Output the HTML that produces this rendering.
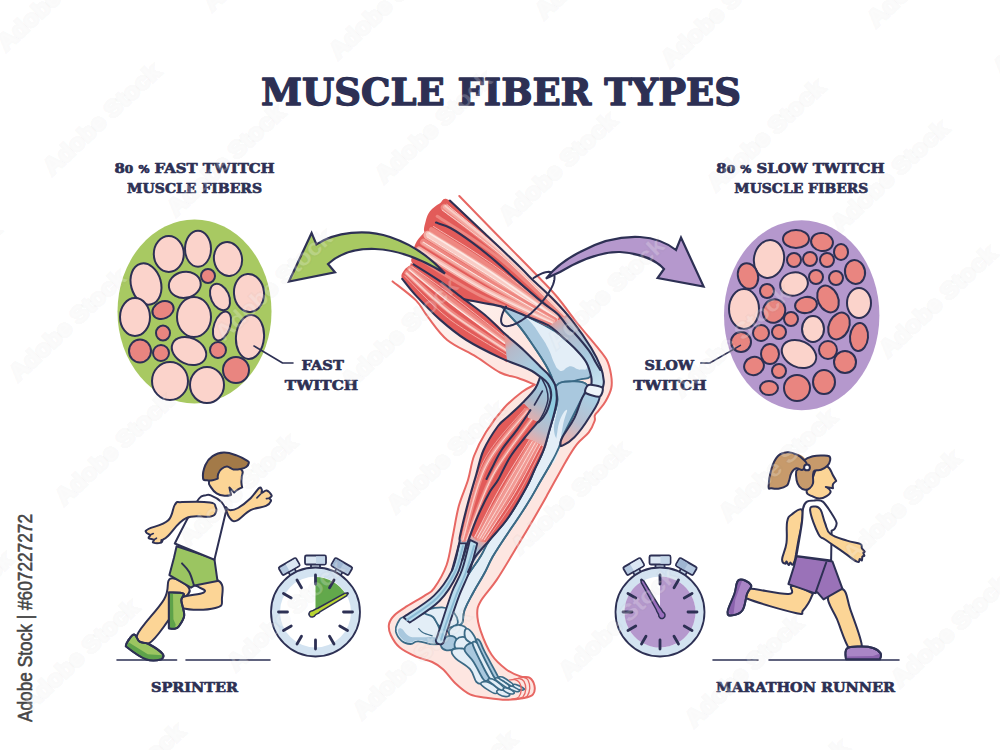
<!DOCTYPE html>
<html lang="en">
<head>
<meta charset="utf-8">
<title>Muscle Fiber Types</title>
<style>
html,body{margin:0;padding:0;background:#fff;}
body{width:1000px;height:750px;overflow:hidden;position:relative;}
svg{display:block;position:absolute;left:0;top:0;}
.t{font-family:"DejaVu Serif","Liberation Serif",serif;font-weight:bold;fill:#2d3054;}
.wm{font-family:"Liberation Sans","DejaVu Sans",sans-serif;font-weight:bold;fill:#000;}
</style>
</head>
<body>
<svg width="1000" height="750" viewBox="0 0 1000 750">
<defs>
<linearGradient id="mus" x1="0" y1="0" x2="1" y2="0">
<stop offset="0" stop-color="#e25b59"/><stop offset="0.5" stop-color="#ef8a84"/><stop offset="1" stop-color="#e25b59"/>
</linearGradient>
<filter id="soft" x="-5%" y="-5%" width="110%" height="110%"><feGaussianBlur stdDeviation="0.55"/></filter>
</defs>
<rect width="1000" height="750" fill="#ffffff"/>
<!-- titles and labels -->
<g class="t" font-size="13.600" stroke="#2d3054" stroke-width="0.650" stroke-linejoin="round">
<text x="261" y="104.500" font-size="37.600" textLength="480" lengthAdjust="spacingAndGlyphs" stroke-width="1.300">MUSCLE FIBER TYPES</text>
<text x="114.500" y="172.700" textLength="160.200" lengthAdjust="spacingAndGlyphs">8<tspan font-size="11">0</tspan> <tspan font-size="10.500">%</tspan> FAST TWITCH</text>
<text x="127.100" y="193.200" textLength="135" lengthAdjust="spacingAndGlyphs">MUSCLE FIBERS</text>
<text x="716.300" y="173" textLength="168.300" lengthAdjust="spacingAndGlyphs">8<tspan font-size="11">0</tspan> <tspan font-size="10.500">%</tspan> SLOW TWITCH</text>
<text x="734.300" y="193.200" textLength="134.100" lengthAdjust="spacingAndGlyphs">MUSCLE FIBERS</text>
<text x="301.500" y="369.700" textLength="42.300" lengthAdjust="spacingAndGlyphs">FAST</text>
<text x="284.800" y="390" textLength="73.400" lengthAdjust="spacingAndGlyphs">TWITCH</text>
<text x="644.600" y="369.700" textLength="49.400" lengthAdjust="spacingAndGlyphs">SLOW</text>
<text x="633.300" y="390" textLength="73.300" lengthAdjust="spacingAndGlyphs">TWITCH</text>
<text x="151" y="691.600" textLength="87" lengthAdjust="spacingAndGlyphs">SPRINTER</text>
<text x="716" y="691.600" textLength="179" lengthAdjust="spacingAndGlyphs">MARATHON RUNNER</text>
</g>
<text class="wm" transform="translate(32,722) rotate(-90)" font-size="20" textLength="208" lengthAdjust="spacingAndGlyphs" style="fill:#454545;font-weight:normal" stroke="#454545" stroke-width="0.550">Adobe Stock | #607227272</text>
<!-- fast twitch fibers -->
<g stroke="#2d3054" stroke-width="2">
<ellipse cx="194.500" cy="311.500" rx="77" ry="92" fill="#a8c962" stroke="none"/>
<ellipse cx="168.8" cy="254" rx="15" ry="18" fill="#fbd3cb" transform="rotate(0 168.8 254)"/>
<ellipse cx="198" cy="248.8" rx="13" ry="18" fill="#fbd3cb" transform="rotate(0 198 248.8)"/>
<ellipse cx="228" cy="259" rx="14" ry="17" fill="#fbd3cb" transform="rotate(-10 228 259)"/>
<ellipse cx="146" cy="284" rx="15" ry="21" fill="#fbd3cb" transform="rotate(-15 146 284)"/>
<ellipse cx="184.8" cy="284.8" rx="16" ry="13" fill="#fbd3cb" transform="rotate(-10 184.8 284.8)"/>
<ellipse cx="220" cy="297" rx="9" ry="14" fill="#fbd3cb" transform="rotate(-25 220 297)"/>
<ellipse cx="249" cy="293" rx="15" ry="19" fill="#fbd3cb" transform="rotate(-5 249 293)"/>
<ellipse cx="135" cy="317" rx="15" ry="19" fill="#fbd3cb" transform="rotate(0 135 317)"/>
<ellipse cx="194" cy="317" rx="17" ry="20" fill="#fbd3cb" transform="rotate(0 194 317)"/>
<ellipse cx="222" cy="326" rx="8" ry="15" fill="#fbd3cb" transform="rotate(20 222 326)"/>
<ellipse cx="250" cy="337" rx="14" ry="22" fill="#fbd3cb" transform="rotate(5 250 337)"/>
<ellipse cx="189" cy="351" rx="18" ry="13" fill="#fbd3cb" transform="rotate(25 189 351)"/>
<ellipse cx="170" cy="381" rx="18" ry="19" fill="#fbd3cb" transform="rotate(0 170 381)"/>
<ellipse cx="207" cy="385" rx="17" ry="18" fill="#fbd3cb" transform="rotate(0 207 385)"/>
<ellipse cx="208" cy="276" rx="7" ry="7" fill="#e98580" transform="rotate(0 208 276)"/>
<ellipse cx="163" cy="310" rx="11" ry="8.5" fill="#e98580" transform="rotate(-25 163 310)"/>
<ellipse cx="163" cy="333" rx="7" ry="7.5" fill="#e98580" transform="rotate(0 163 333)"/>
<ellipse cx="140" cy="351" rx="11" ry="11.5" fill="#e98580" transform="rotate(0 140 351)"/>
<ellipse cx="161" cy="353" rx="8" ry="8" fill="#e98580" transform="rotate(0 161 353)"/>
<ellipse cx="218" cy="350" rx="8" ry="8" fill="#e98580" transform="rotate(0 218 350)"/>
<ellipse cx="236" cy="370" rx="13" ry="13" fill="#e98580" transform="rotate(0 236 370)"/>
</g>
<!-- slow twitch fibers -->
<g stroke="#2d3054" stroke-width="2">
<ellipse cx="801.700" cy="315.300" rx="77.700" ry="95" fill="#b598cd" stroke="none"/>
<ellipse cx="769" cy="259" rx="15" ry="19" fill="#fbd3cb" transform="rotate(10 769 259)"/>
<ellipse cx="794" cy="284" rx="14" ry="11.5" fill="#fbd3cb" transform="rotate(-15 794 284)"/>
<ellipse cx="744" cy="309" rx="15" ry="20" fill="#fbd3cb" transform="rotate(0 744 309)"/>
<ellipse cx="859" cy="303" rx="12" ry="15" fill="#fbd3cb" transform="rotate(0 859 303)"/>
<ellipse cx="813" cy="329" rx="11" ry="13" fill="#fbd3cb" transform="rotate(0 813 329)"/>
<ellipse cx="799" cy="354" rx="18" ry="13" fill="#fbd3cb" transform="rotate(25 799 354)"/>
<ellipse cx="796" cy="239" rx="13" ry="9" fill="#e98580" transform="rotate(0 796 239)"/>
<ellipse cx="822" cy="242" rx="11" ry="9" fill="#e98580" transform="rotate(10 822 242)"/>
<ellipse cx="841" cy="252" rx="7" ry="8" fill="#e98580" transform="rotate(0 841 252)"/>
<ellipse cx="794" cy="260" rx="7" ry="7" fill="#e98580" transform="rotate(0 794 260)"/>
<ellipse cx="810" cy="259" rx="7" ry="7" fill="#e98580" transform="rotate(0 810 259)"/>
<ellipse cx="827" cy="260" rx="7" ry="7" fill="#e98580" transform="rotate(0 827 260)"/>
<ellipse cx="855" cy="272" rx="10" ry="12" fill="#e98580" transform="rotate(-10 855 272)"/>
<ellipse cx="748" cy="276" rx="10" ry="13" fill="#e98580" transform="rotate(-15 748 276)"/>
<ellipse cx="816" cy="277" rx="7" ry="7" fill="#e98580" transform="rotate(0 816 277)"/>
<ellipse cx="836" cy="278" rx="7" ry="7" fill="#e98580" transform="rotate(0 836 278)"/>
<ellipse cx="767" cy="291" rx="7" ry="7" fill="#e98580" transform="rotate(0 767 291)"/>
<ellipse cx="828" cy="299" rx="10" ry="14" fill="#e98580" transform="rotate(-25 828 299)"/>
<ellipse cx="806" cy="305" rx="11" ry="8" fill="#e98580" transform="rotate(-10 806 305)"/>
<ellipse cx="774" cy="311" rx="11" ry="12" fill="#e98580" transform="rotate(30 774 311)"/>
<ellipse cx="791" cy="319" rx="7" ry="7" fill="#e98580" transform="rotate(0 791 319)"/>
<ellipse cx="839" cy="326" rx="10" ry="14" fill="#e98580" transform="rotate(25 839 326)"/>
<ellipse cx="761" cy="333" rx="8" ry="8" fill="#e98580" transform="rotate(0 761 333)"/>
<ellipse cx="779" cy="332" rx="7" ry="7" fill="#e98580" transform="rotate(0 779 332)"/>
<ellipse cx="859" cy="337" rx="9" ry="14" fill="#e98580" transform="rotate(5 859 337)"/>
<ellipse cx="741" cy="342" rx="10" ry="10" fill="#e98580" transform="rotate(0 741 342)"/>
<ellipse cx="828" cy="350" rx="9" ry="9" fill="#e98580" transform="rotate(0 828 350)"/>
<ellipse cx="770" cy="354" rx="9" ry="10" fill="#e98580" transform="rotate(0 770 354)"/>
<ellipse cx="845" cy="362" rx="11" ry="11" fill="#e98580" transform="rotate(0 845 362)"/>
<ellipse cx="754" cy="366" rx="10" ry="9" fill="#e98580" transform="rotate(-20 754 366)"/>
<ellipse cx="779" cy="371" rx="7" ry="7" fill="#e98580" transform="rotate(0 779 371)"/>
<ellipse cx="824" cy="382" rx="11" ry="12" fill="#e98580" transform="rotate(0 824 382)"/>
<ellipse cx="797" cy="388" rx="13" ry="13" fill="#e98580" transform="rotate(0 797 388)"/>
<ellipse cx="769" cy="388" rx="9" ry="7" fill="#e98580" transform="rotate(0 769 388)"/>
</g>
<!-- label lines / ground -->
<g fill="none" stroke="#2d3054" stroke-width="1.600" stroke-linecap="round" stroke-linejoin="round">
<path d="M254,346 L282.600,363 L293,363"/>
<path d="M740.400,345.400 L709.800,363 L700.800,363"/>
<path d="M117,660 H176.600 M186,660 H270"/>
<path d="M713,660 H758 M769,660 H899"/>
</g>
<!-- stopwatches -->
<g transform="translate(315.5 612)" stroke="#2d3054" stroke-width="1.8" stroke-linecap="round" stroke-linejoin="round">
<g fill="#dbe7f3">
<rect x="-4.500" y="-48.500" width="9" height="5" />
<rect x="-10.500" y="-56.500" width="21" height="9" rx="1.500"/>
<rect x="0.500" y="-55.700" width="9" height="7.400" fill="#c3d6e8" stroke="none"/>
<g transform="rotate(-30)">
<rect x="-3.500" y="-50" width="7" height="6" fill="#c3d6e8"/>
<rect x="-10" y="-57" width="20" height="9" rx="1.500" fill="#b5c9e0"/>
<rect x="-2" y="-56.200" width="11" height="7.400" fill="#dbe7f3" stroke="none"/>
</g>
<g transform="rotate(30)">
<rect x="-3.500" y="-50" width="7" height="6" fill="#c3d6e8"/>
<rect x="-10" y="-57" width="20" height="9" rx="1.500" fill="#b5c9e0"/>
<rect x="-9" y="-56.200" width="9" height="7.400" fill="#9fb6d2" stroke="none"/>
</g>
</g>
<circle r="44.500" fill="#d3e3f1"/>
<circle r="35.500" fill="#ffffff" stroke="none"/>
<path d="M0,0 L0,-35 A35,35 0 0 1 30.31,-17.50 Z" fill="#62a84b" stroke="none"/>
<path d="M0.00,-28.00 L0.00,-37.00 M14.00,-24.25 L18.50,-32.04 M24.25,-14.00 L32.04,-18.50 M28.00,-0.00 L37.00,-0.00 M24.25,14.00 L32.04,18.50 M14.00,24.25 L18.50,32.04 M0.00,28.00 L0.00,37.00 M-14.00,24.25 L-18.50,32.04 M-24.25,14.00 L-32.04,18.50 M-28.00,0.00 L-37.00,0.00 M-24.25,-14.00 L-32.04,-18.50 M-14.00,-24.25 L-18.50,-32.04" stroke-width="2.800" fill="none"/>
<g transform="rotate(60)"><path d="M0,7 C-3,7 -3.800,3.600 -2.600,1.800 C-1.900,0.500 -3,-1.500 -2.100,-3.800 L-1.500,-35 Q0,-38.500 1.500,-35 L2.100,-3.800 C3,-1.500 1.900,0.500 2.600,1.800 C3.800,3.600 3,7 0,7 Z" fill="#b9d532" stroke-width="1.500"/></g>
</g>
<g transform="translate(660 612)" stroke="#2d3054" stroke-width="1.8" stroke-linecap="round" stroke-linejoin="round">
<g fill="#dbe7f3">
<rect x="-4.500" y="-48.500" width="9" height="5" />
<rect x="-10.500" y="-56.500" width="21" height="9" rx="1.500"/>
<rect x="0.500" y="-55.700" width="9" height="7.400" fill="#c3d6e8" stroke="none"/>
<g transform="rotate(-30)">
<rect x="-3.500" y="-50" width="7" height="6" fill="#c3d6e8"/>
<rect x="-10" y="-57" width="20" height="9" rx="1.500" fill="#b5c9e0"/>
<rect x="-2" y="-56.200" width="11" height="7.400" fill="#dbe7f3" stroke="none"/>
</g>
<g transform="rotate(30)">
<rect x="-3.500" y="-50" width="7" height="6" fill="#c3d6e8"/>
<rect x="-10" y="-57" width="20" height="9" rx="1.500" fill="#b5c9e0"/>
<rect x="-9" y="-56.200" width="9" height="7.400" fill="#9fb6d2" stroke="none"/>
</g>
</g>
<circle r="44.500" fill="#d3e3f1"/>
<circle r="35.500" fill="#ffffff" stroke="none"/>
<path d="M0,0 L0,-35.500 A35.500,35.500 0 1 1 -17.75,-30.74 Z" fill="#b598cd" stroke="none"/>
<path d="M0.00,-28.00 L0.00,-37.00 M14.00,-24.25 L18.50,-32.04 M24.25,-14.00 L32.04,-18.50 M28.00,-0.00 L37.00,-0.00 M24.25,14.00 L32.04,18.50 M14.00,24.25 L18.50,32.04 M0.00,28.00 L0.00,37.00 M-14.00,24.25 L-18.50,32.04 M-24.25,14.00 L-32.04,18.50 M-28.00,0.00 L-37.00,0.00 M-24.25,-14.00 L-32.04,-18.50 M-14.00,-24.25 L-18.50,-32.04" stroke-width="2.800" fill="none"/>
<g transform="rotate(-30)"><path d="M0,7 C-3,7 -3.800,3.600 -2.600,1.800 C-1.900,0.500 -3,-1.500 -2.100,-3.800 L-1.500,-35 Q0,-38.500 1.500,-35 L2.100,-3.800 C3,-1.500 1.900,0.500 2.600,1.800 C3.800,3.600 3,7 0,7 Z" fill="#9a6fbd" stroke-width="1.500"/></g>
</g>
<!-- sprinter -->
<g stroke="#2d3054" stroke-width="2" stroke-linejoin="round" stroke-linecap="round">
<path d="M170.3,578.7 C175.3,576.5 186.9,584.1 189.2,588.6 C191.5,593.1 186.0,595.1 182.0,601.2 C178.0,607.3 176.1,610.7 169.4,619.2 C162.7,627.7 155.2,640.3 148.7,643.5 C142.2,646.7 133.9,644.2 137.0,635.4 C140.1,626.6 157.3,610.7 164.0,599.4 C170.7,588.1 165.3,580.9 170.3,578.7 Z" fill="#fcd596"/>
<path d="M134.3,634.5 C132.0,634.3 129.7,638.5 128.0,640.8 C126.3,643.1 125.8,646.2 125.8,646.2 C125.8,646.2 138.9,656.6 146.0,659.2 C153.1,661.8 161.3,659.2 161.3,659.2 C161.3,659.2 165.1,656.8 162.6,653.8 C160.0,650.7 153.3,646.5 148.7,644.0 C144.1,641.6 142.6,643.6 139.7,641.7 C136.8,639.8 136.6,634.7 134.3,634.5 Z" fill="#9bc561"/>
<path d="M126.2,646.2 L146.0,659.2 L161.3,659.2 L162.2,655.2 L147.8,654.3 L128.9,642.6 Z" fill="#5ea24a" stroke="none"/>
<path d="M134.3,634.5 C132.0,634.3 129.7,638.5 128.0,640.8 C126.3,643.1 125.8,646.2 125.8,646.2 C125.8,646.2 138.9,656.6 146.0,659.2 C153.1,661.8 161.3,659.2 161.3,659.2 C161.3,659.2 165.1,656.8 162.6,653.8 C160.0,650.7 153.3,646.5 148.7,644.0 C144.1,641.6 142.6,643.6 139.7,641.7 C136.8,639.8 136.6,634.7 134.3,634.5 Z" fill="none"/>
<path d="M194.6,584.1 C199.0,582.5 211.6,577.3 218.0,580.5 C224.4,583.6 222.6,591.2 222.0,597.6 C221.3,604.0 224.6,605.6 215.3,608.0 C206.0,610.5 190.1,610.4 182.0,608.0 C173.9,605.7 175.5,601.6 180.6,598.0 C185.6,594.3 199.3,595.1 203.6,592.6 C207.9,590.0 201.2,589.1 199.1,587.2 C197.0,585.2 190.2,585.7 194.6,584.1 Z" fill="#fcd596"/>
<path d="M168.9,592.6 C168.9,592.6 181.4,592.3 183.4,593.6 C185.5,594.9 181.2,596.6 181.3,600.3 C181.4,604.0 184.6,611.2 184.2,615.6 C183.7,619.9 180.3,624.2 178.8,626.4 C177.2,628.6 176.4,628.4 174.8,628.7 C173.1,629.0 168.9,628.2 168.9,628.2 L168.9,592.6 Z" fill="#9bc561"/>
<path d="M168.9,592.6 L173.0,592.7 L173.4,619.2 L175.7,624.6 L174.8,628.7 L168.9,628.2 Z" fill="#5ea24a" stroke="none"/>
<path d="M168.9,592.6 C168.9,592.6 181.4,592.3 183.4,593.6 C185.5,594.9 181.2,596.6 181.3,600.3 C181.4,604.0 184.6,611.2 184.2,615.6 C183.7,619.9 180.3,624.2 178.8,626.4 C177.2,628.6 176.4,628.4 174.8,628.7 C173.1,629.0 168.9,628.2 168.9,628.2 L168.9,592.6 Z" fill="none"/>
<path d="M176.6,546.3 L214.4,558.9 L217.5,581.0 L194.6,585.4 L191.0,587.7 L169.4,575.1 L173.9,558.0 Z" fill="#9bc561"/>
<path d="M182.0,563.4 C183.4,565.1 186.8,567.7 189.2,572.0 C191.6,576.4 192.9,582.4 193.9,585.0" fill="none"/>
<path d="M225.7,507.3 C225.7,508.8 227.4,515.1 229.6,517.8 C231.8,520.5 232.4,522.1 236.6,520.6 C240.8,519.1 244.7,513.0 250.6,510.1 C256.5,507.2 261.9,507.7 266.0,505.9 C270.1,504.1 270.2,502.5 270.9,501.0 C271.6,499.5 269.4,499.3 269.5,498.2 C269.6,497.1 272.2,496.9 271.6,495.4 C271.0,493.9 268.7,491.0 266.7,490.5 C264.7,490.0 262.8,493.0 261.8,492.9 C260.8,492.7 262.4,490.8 261.8,489.8 C261.2,488.8 261.2,486.4 259.0,488.1 C256.8,489.8 254.8,494.2 250.6,498.2 C246.4,502.2 242.2,505.6 238.0,508.0 C233.8,510.4 232.1,510.2 229.6,510.1 C227.1,510.0 225.7,505.8 225.7,507.3 Z" fill="#fcd596"/>
<path d="M260.7,494.0 L256.9,497.9" fill="none" stroke-width="1.6"/>
<path d="M269.5,498.2 L266.4,498.6" fill="none" stroke-width="1.6"/>
<path d="M199.1,498.5 C201.8,495.1 203.4,495.9 205.4,495.4 C207.3,494.9 208.1,494.3 210.8,495.4 C213.5,496.5 219.0,499.5 221.6,502.1 C224.1,504.7 226.1,511.1 226.1,511.1 L214.4,559.7 L174.8,543.5 C174.8,543.5 185.1,523.1 189.2,515.6 C193.2,508.1 196.4,501.9 199.1,498.5 Z" fill="#ffffff"/>
<path d="M215.6,506.9 C214.5,504.8 216.7,503.4 210.0,502.4 C203.3,501.4 189.0,501.7 182.0,502.1 C175.0,502.5 177.8,500.8 175.0,504.5 C172.2,508.2 173.3,515.7 168.0,520.6 C162.7,525.5 152.7,526.6 148.4,529.0 C144.1,531.4 146.0,531.3 146.3,532.5 C146.6,533.7 149.6,533.9 150.1,535.0 C150.6,536.1 148.0,537.1 148.7,538.1 C149.4,539.1 152.8,539.0 153.7,539.9 C154.6,540.8 151.8,542.0 153.3,542.6 C154.8,543.1 159.0,543.2 161.0,542.6 C163.0,542.0 161.7,540.8 163.1,539.5 C164.5,538.2 163.4,540.3 168.0,536.0 C172.6,531.7 177.8,521.9 186.2,518.1 C194.6,514.2 204.1,517.7 210.0,516.7 C215.9,515.6 214.5,514.9 215.6,512.9 C216.7,510.9 216.7,509.0 215.6,506.9 Z" fill="#fcd596"/>
<path d="M150.1,535.0 L153.3,533.6" fill="none" stroke-width="1.6"/>
<path d="M153.7,539.9 L156.5,538.2" fill="none" stroke-width="1.6"/>
<path d="M161.0,542.6 L161.3,539.9" fill="none" stroke-width="1.6"/>
<path d="M209.0,481.4 C208.2,484.6 209.5,485.0 211.0,487.4 C212.5,489.8 213.9,491.7 216.6,493.4 C219.3,495.1 221.7,495.5 224.6,495.8 C227.5,496.1 231.0,495.0 231.0,495.0 L229.4,487.4 L234.2,492.6 C234.2,492.6 235.8,490.8 237.4,489.8 C239.0,488.8 242.2,487.4 242.2,487.4 C242.2,487.4 241.5,484.7 241.4,482.6 C241.3,480.5 241.8,479.6 241.8,477.0 C241.8,474.4 244.4,472.0 241.4,469.8 C238.4,467.6 232.3,465.5 227.0,465.8 C221.7,466.1 218.6,468.3 215.0,471.4 C211.4,474.5 209.8,478.2 209.0,481.4 Z" fill="#fcd596"/>
<path d="M203.0,478.2 C202.7,475.2 203.5,469.4 205.4,465.0 C207.3,460.6 208.9,458.7 212.6,456.2 C216.3,453.7 219.0,452.8 223.8,452.6 C228.6,452.4 232.0,453.8 236.6,455.4 C241.2,457.0 244.6,459.1 247.0,460.6 C249.4,462.1 248.9,461.7 248.8,463.0 C248.6,464.3 247.8,465.8 246.2,467.0 C244.6,468.2 243.2,468.5 240.6,469.0 C238.0,469.5 236.1,469.9 233.4,469.4 C230.7,468.9 229.4,466.7 227.0,466.6 C224.6,466.5 223.2,467.6 221.4,469.0 C219.6,470.4 218.9,471.9 218.2,473.8 C217.5,475.7 217.8,478.6 217.8,478.6 C217.8,478.6 214.8,479.9 212.6,480.2 C210.4,480.5 208.9,480.6 207.0,480.2 C205.1,479.8 203.3,481.2 203.0,478.2 Z" fill="#a37a48"/>
</g>
<!-- marathon runner -->
<g stroke="#2d3054" stroke-width="2" stroke-linejoin="round" stroke-linecap="round">
<path d="M801.9,509.8 C800.0,507.6 795.0,511.8 792.0,514.2 C789.0,516.6 788.2,516.2 787.1,521.9 C786.0,527.6 787.5,535.3 786.5,542.8 C785.5,550.3 782.3,555.1 782.1,559.3 C781.9,563.5 784.5,563.3 785.4,563.7 C786.3,564.1 785.8,561.2 786.5,561.5 C787.2,561.8 787.9,564.8 788.7,565.0 C789.5,565.2 789.6,562.6 790.4,562.6 C791.1,562.6 791.7,565.2 792.6,564.8 C793.4,564.4 794.1,562.4 794.8,560.4 C795.4,558.4 795.1,559.1 795.9,554.9 C796.6,550.7 797.5,545.4 798.6,539.5 C799.7,533.6 800.7,531.1 801.4,525.2 C802.0,519.3 803.8,512.0 801.9,509.8 Z" fill="#fcd596"/>
<path d="M792.0,585.9 C796.3,585.5 806.0,590.1 810.0,592.2 C814.0,594.3 813.2,592.6 811.8,596.2 C810.4,599.8 806.4,606.9 803.2,610.2 C799.9,613.5 806.8,615.2 795.6,612.9 C784.4,610.6 756.7,602.5 747.0,598.5 C737.3,594.5 746.6,595.1 747.0,593.1 C747.4,591.1 740.9,588.4 749.2,588.6 C757.4,588.8 779.8,594.5 788.4,594.0 C797.0,593.5 787.7,586.3 792.0,585.9 Z" fill="#fcd596"/>
<path d="M738.9,580.0 C742.2,578.2 749.3,582.2 751.0,585.0 C752.6,587.8 748.7,589.0 747.0,594.0 C745.3,599.0 745.4,606.0 742.5,610.2 C739.6,614.4 735.6,614.9 732.6,615.2 C729.6,615.6 727.2,616.2 727.6,612.0 C727.9,607.8 732.1,600.4 734.4,594.0 C736.7,587.6 735.6,581.8 738.9,580.0 Z" fill="#a985c6"/>
<path d="M738.9,580.0 L742.0,581.0 L735.3,599.4 L733.5,614.7 L732.6,615.2 L727.6,612.0 L734.4,594.0 Z" fill="#8a62ad" stroke="none"/>
<path d="M738.9,580.0 C742.2,578.2 749.3,582.2 751.0,585.0 C752.6,587.8 748.7,589.0 747.0,594.0 C745.3,599.0 745.4,606.0 742.5,610.2 C739.6,614.4 735.6,614.9 732.6,615.2 C729.6,615.6 727.2,616.2 727.6,612.0 C727.9,607.8 732.1,600.4 734.4,594.0 C736.7,587.6 735.6,581.8 738.9,580.0 Z" fill="none"/>
<path d="M828.0,597.6 C829.0,592.6 839.6,587.7 843.3,589.5 C847.0,591.3 846.9,598.9 850.0,608.4 C853.0,617.8 861.9,639.4 861.8,646.2 C861.8,653.0 853.7,653.6 849.6,649.1 C845.5,644.6 840.6,627.8 837.0,619.2 C833.4,610.6 826.9,602.5 828.0,597.6 Z" fill="#fcd596"/>
<path d="M846.9,648.4 C849.3,646.2 856.0,646.6 860.4,646.6 C864.7,646.5 869.6,646.9 873.0,648.0 C876.4,649.1 879.4,651.5 880.6,653.4 C881.7,655.3 879.8,659.3 879.8,659.3 L846.0,659.3 C846.0,659.3 844.5,650.5 846.9,648.4 Z" fill="#a985c6"/>
<path d="M846.0,659.3 L846.4,656.6 L873.0,656.1 L880.2,653.4 L879.8,659.3 Z" fill="#8a62ad" stroke="none"/>
<path d="M846.9,648.4 C849.3,646.2 856.0,646.6 860.4,646.6 C864.7,646.5 869.6,646.9 873.0,648.0 C876.4,649.1 879.4,651.5 880.6,653.4 C881.7,655.3 879.8,659.3 879.8,659.3 L846.0,659.3 C846.0,659.3 844.5,650.5 846.9,648.4 Z" fill="none"/>
<path d="M796.5,556.2 L832.5,561.6 L842.4,588.6 L823.5,599.4 L817.2,592.2 L814.5,593.1 L788.4,584.1 L793.8,567.0 Z" fill="#9a72b8"/>
<path d="M826.2,562.5 L815.4,593.1" fill="none"/>
<path d="M803.0,508.7 C803.7,505.2 804.5,503.5 806.3,502.1 C808.1,500.7 811.3,500.5 814.0,500.5 C816.8,500.4 819.7,499.1 822.8,501.6 C825.9,504.0 830.4,511.7 832.7,515.3 C835.0,518.9 836.2,520.8 836.6,523.0 C836.9,525.2 835.7,527.2 834.9,528.5 C834.1,529.8 831.6,530.7 831.6,530.7 L831.1,560.4 L796.4,556.0 C796.4,556.0 800.8,530.9 801.9,523.0 C803.0,515.1 802.3,512.2 803.0,508.7 Z" fill="#ffffff"/>
<path d="M815.1,506.5 C813.0,506.7 809.5,505.4 810.2,510.9 C810.8,516.4 815.4,528.3 818.4,534.0 C821.4,539.7 820.2,536.0 825.0,539.5 C829.8,543.0 836.2,547.2 842.6,551.6 C849.0,556.0 853.5,560.2 856.9,561.7 C860.3,563.2 858.7,559.3 859.7,559.1 C860.6,558.8 861.3,560.9 861.9,560.4 C862.4,559.9 861.9,557.5 862.4,556.6 C862.9,555.6 864.2,556.6 864.4,555.8 C864.6,555.0 863.2,553.5 863.3,552.7 C863.3,551.9 864.9,552.5 864.6,551.6 C864.3,550.7 862.7,549.8 861.9,548.3 C861.0,546.8 863.2,545.4 860.2,543.9 C857.2,542.4 852.9,542.6 847.0,540.6 C841.1,538.6 834.9,537.5 830.5,534.0 C826.1,530.5 827.0,527.8 825.0,523.0 C823.0,518.2 822.6,513.1 820.6,509.8 C818.6,506.5 817.2,506.3 815.1,506.5 Z" fill="#fcd596"/>
<path d="M797.0,454.6 C796.8,453.0 800.8,454.9 802.6,456.2 C804.4,457.5 805.6,459.4 805.8,461.0 C806.0,462.6 805.2,465.5 803.4,464.2 C801.6,462.9 797.2,456.2 797.0,454.6 Z" fill="#b98d5e" stroke="none"/>
<path d="M827.4,466.6 C830.6,467.9 831.2,472.5 833.0,475.4 C834.8,478.3 836.2,481.0 836.2,481.0 C836.2,481.0 833.6,482.8 833.0,484.2 C832.4,485.6 833.0,488.2 833.0,488.2 L825.8,487.0 C825.8,487.0 830.4,489.6 830.6,491.4 C830.8,493.2 828.8,494.8 826.6,496.2 C824.4,497.6 822.3,498.6 819.4,498.6 C816.5,498.6 814.8,497.6 812.2,496.2 C809.6,494.8 806.4,495.2 806.6,491.4 C806.8,487.6 810.9,481.5 813.0,477.0 C815.1,472.5 814.1,471.1 817.0,469.0 C819.9,466.9 824.2,465.3 827.4,466.6 Z" fill="#fcd596"/>
<path d="M804.2,460.2 C807.1,457.6 809.3,457.2 813.0,456.2 C816.7,455.2 819.4,455.4 822.6,455.4 C825.8,455.4 827.5,455.2 829.0,456.2 C830.5,457.2 830.5,458.3 830.2,460.2 C829.9,462.1 829.2,463.9 827.4,465.8 C825.6,467.7 823.6,468.8 821.0,469.8 C818.4,470.8 816.2,469.5 814.6,470.6 C813.0,471.7 813.3,472.8 813.0,475.4 C812.7,478.0 813.6,480.8 813.0,483.4 C812.4,486.0 811.4,486.9 809.8,488.2 C808.2,489.5 807.1,490.1 805.0,489.8 C802.9,489.5 801.1,488.5 799.4,486.6 C797.7,484.7 797.2,483.2 796.6,480.2 C796.0,477.2 795.8,473.6 796.2,471.4 C796.6,469.2 797.0,471.2 798.6,469.0 C800.2,466.8 801.3,462.8 804.2,460.2 Z" fill="#c79a6b"/>
<path d="M768.6,486.6 C768.6,482.8 769.6,475.1 771.4,469.0 C773.2,462.9 774.6,459.6 777.8,456.2 C781.0,452.8 783.6,452.5 787.4,452.2 C791.2,451.9 793.6,453.0 797.0,454.6 C800.4,456.2 802.3,458.3 804.2,460.2 C806.1,462.1 806.9,462.3 806.6,464.2 C806.3,466.1 804.7,469.0 802.6,469.8 C800.5,470.6 798.4,467.6 796.2,468.2 C794.0,468.8 792.8,470.4 791.4,473.0 C790.0,475.6 790.0,478.4 789.0,481.0 C788.0,483.6 788.5,484.3 786.6,485.8 C784.7,487.3 782.4,488.1 779.4,488.6 C776.4,489.1 773.6,488.6 771.4,488.2 C769.2,487.8 768.6,490.4 768.6,486.6 Z" fill="#c79a6b"/>
<circle cx="807" cy="467.400" r="2.900" fill="#ffffff"/>
</g>
<!-- leg -->
<g stroke-linejoin="round" stroke-linecap="round" fill="none">
<linearGradient id="skg" gradientUnits="userSpaceOnUse" x1="440" y1="235" x2="530" y2="335"><stop offset="0" stop-color="#ffffff"/><stop offset="0.35" stop-color="#fef3f0"/><stop offset="1" stop-color="#fde6e1"/></linearGradient>
<path d="M459.3,196.0 C465.6,202.4 486.9,224.4 497.0,234.7 C507.1,245.0 512.8,250.7 520.0,258.0 C527.2,265.3 533.7,271.9 540.0,278.5 C546.3,285.1 551.3,289.9 557.6,297.5 C563.9,305.1 571.6,316.0 578.0,324.0 C584.4,332.0 591.2,339.6 596.0,345.6 C600.8,351.6 604.3,355.2 606.8,360.0 C609.3,364.8 610.2,369.7 611.0,374.4 C611.8,379.1 612.2,383.5 611.3,388.0 C610.4,392.5 607.8,397.4 605.6,401.2 C603.5,405.0 600.2,408.4 598.4,410.8 C596.6,413.2 595.4,413.9 594.8,415.6 C594.2,417.3 595.6,418.2 594.6,421.0 C593.6,423.8 591.8,428.5 588.8,432.4 C585.8,436.3 580.6,439.6 576.8,444.4 C573.0,449.2 570.8,453.0 566.0,461.2 C561.2,469.4 553.5,483.8 548.0,493.6 C542.5,503.4 538.2,511.1 533.0,520.0 C527.8,528.9 522.8,537.1 516.8,547.0 C510.8,556.9 503.0,570.4 497.0,579.4 C491.0,588.4 484.1,595.3 480.8,601.0 C477.5,606.7 477.2,608.5 477.2,613.6 C477.2,618.7 478.4,624.5 480.8,631.4 C483.2,638.3 487.4,648.5 491.6,654.8 C495.8,661.1 501.2,665.6 506.0,669.2 C510.8,672.8 516.5,675.0 520.4,676.4 C524.3,677.8 527.1,676.2 529.4,677.7 C531.7,679.2 533.8,682.6 534.4,685.4 C535.0,688.2 534.7,692.3 533.0,694.4 C531.3,696.5 528.5,697.1 524.0,698.0 C519.5,698.9 512.0,699.8 506.0,699.8 C500.0,699.8 494.0,698.9 488.0,698.0 C482.0,697.1 475.4,696.8 470.0,694.4 C464.6,692.0 460.1,687.8 455.6,683.6 C451.1,679.4 446.9,672.8 443.0,669.2 C439.1,665.6 436.7,664.1 432.2,662.0 C427.7,659.9 421.4,659.0 416.0,656.6 C410.6,654.2 404.0,651.2 399.8,647.6 C395.6,644.0 392.6,638.9 390.8,635.0 C389.0,631.1 388.4,627.5 389.0,624.2 C389.6,620.9 391.4,618.2 394.4,615.2 C397.4,612.2 401.9,609.5 407.0,606.2 C412.1,602.9 420.5,598.4 425.0,595.4 C429.5,592.4 430.4,593.5 434.0,588.4 C437.6,583.3 443.5,573.7 446.6,565.0 C449.7,556.3 450.8,545.8 452.8,536.0 C454.8,526.2 456.3,515.3 458.8,506.0 C461.3,496.7 465.5,488.3 468.0,480.0 C470.5,471.7 471.0,464.0 474.0,456.0 C477.0,448.0 481.0,440.0 486.0,432.0 C491.0,424.0 498.0,414.7 504.0,408.0 C510.0,401.3 516.9,395.9 522.0,392.0 C527.1,388.1 532.7,385.8 534.8,384.6 L534.8,384.6 C532.0,383.5 523.8,380.0 518.0,378.0 C512.2,376.0 507.0,376.1 500.0,372.5 C493.0,368.9 484.8,362.0 476.0,356.6 C467.2,351.2 455.2,346.6 447.2,340.0 C439.2,333.4 433.2,323.8 428.0,317.2 C422.8,310.6 421.9,306.4 416.0,300.4 C410.1,294.4 396.5,284.6 392.6,281.4 L402,279 L413,262 L425,225 L449,201 Z" fill="url(#skg)" stroke="none"/>
<path d="M500.0,304.0 C498.1,305.1 499.4,303.9 504.8,310.2 C510.2,316.5 512.4,317.5 520.4,327.6 C528.4,337.7 528.1,338.1 534.8,348.0 C541.5,357.9 541.1,357.1 545.6,364.8 C550.1,372.5 548.7,371.0 551.6,376.8 C554.5,382.6 552.9,384.5 556.4,386.4 C559.9,388.3 560.1,385.4 564.8,384.0 C569.5,382.6 569.5,382.3 574.0,381.0 C578.5,379.7 577.3,380.3 581.6,379.2 C585.9,378.1 587.5,379.3 590.0,376.8 C592.5,374.3 591.3,372.9 591.0,370.0 C590.7,367.1 590.7,369.2 588.8,366.0 C586.9,362.8 587.2,362.2 584.0,358.0 C580.8,353.8 581.9,355.3 576.8,350.4 C571.7,345.5 571.8,345.4 564.8,339.6 C557.8,333.8 560.6,335.1 550.4,328.8 C540.2,322.5 536.6,322.1 526.4,316.0 C516.2,309.9 519.0,309.2 512.0,306.0 C505.0,302.8 501.9,302.9 500.0,304.0 Z" fill="#a9c8de" stroke="#3b6a86" stroke-width="1.8"/>
<path d="M515.0,308.0 C516.0,309.2 523.3,314.4 530.0,321.6 C536.7,328.8 535.2,328.0 540.0,335.0 C544.8,342.0 544.3,340.7 548.0,348.0 C551.7,355.3 551.3,356.8 554.0,362.4 C556.7,368.0 555.8,366.8 558.0,369.0 C560.2,371.2 560.0,371.2 562.4,370.8 C564.8,370.4 564.4,368.6 567.0,367.5 C569.6,366.4 569.3,366.1 572.0,366.5 C574.7,366.9 574.4,368.2 577.0,369.0 C579.6,369.8 578.9,369.9 581.6,369.6 C584.3,369.3 586.4,370.6 587.0,368.0 C587.6,365.4 586.7,364.4 584.0,360.0 C581.3,355.6 581.9,356.6 576.8,351.4 C571.7,346.2 571.8,346.4 564.8,340.6 C557.8,334.8 560.6,336.1 550.4,329.8 C540.2,323.5 535.8,322.8 526.4,317.0 C517.0,311.2 514.0,306.8 515.0,308.0 Z" fill="#e3eef7" stroke="none"/>
<path d="M504.8,310.2 C507.4,313.1 515.4,321.3 520.4,327.6 C525.4,333.9 530.6,341.8 534.8,348.0 C539.0,354.2 542.8,360.0 545.6,364.8 C548.4,369.6 550.6,374.8 551.6,376.8" stroke="#3b6a86" stroke-width="1.8"/>
<path d="M556.4,385.6 C553.0,389.9 558.2,393.1 557.6,400.0 C557.0,406.9 555.9,408.1 554.0,415.0 C552.1,421.9 552.0,421.4 549.6,429.6 C547.2,437.8 547.1,440.6 543.6,450.0 C540.1,459.4 538.5,461.1 534.4,470.0 C530.3,478.9 532.2,476.8 526.0,488.0 C519.8,499.2 516.4,506.0 508.0,518.0 C499.6,530.0 496.3,530.7 490.0,539.6 C483.7,548.5 485.9,547.7 480.8,556.0 C475.7,564.3 473.5,566.6 468.0,575.0 C462.5,583.4 461.6,584.3 457.4,592.0 C453.2,599.7 452.1,601.3 450.0,608.0 C447.9,614.7 445.8,617.0 448.4,620.8 C451.0,624.6 457.2,626.9 461.0,624.4 C464.8,621.9 461.7,617.6 464.6,610.0 C467.5,602.4 469.1,600.4 473.6,592.0 C478.1,583.6 479.7,581.9 484.0,574.0 C488.3,566.1 487.8,565.5 492.0,558.0 C496.2,550.5 494.1,554.1 502.0,542.0 C509.9,529.9 516.9,520.5 526.0,506.0 C535.1,491.5 534.9,490.7 541.2,480.0 C547.5,469.3 548.6,467.7 552.8,460.0 C557.0,452.3 556.8,452.3 559.0,447.0 C561.2,441.7 559.4,444.0 562.4,437.2 C565.4,430.4 567.9,426.2 572.0,418.0 C576.1,409.8 577.2,407.6 580.0,402.0 C582.8,396.4 582.5,398.1 584.0,394.0 C585.5,389.9 589.2,387.3 586.4,384.4 C583.6,381.5 579.0,381.1 572.0,381.4 C565.0,381.7 559.8,381.3 556.4,385.6 Z" fill="#e3eef7" stroke="#3b6a86" stroke-width="1.8"/>
<path d="M556.4,385.6 C559.8,379.9 565.0,381.7 572.0,381.4 C579.0,381.1 583.6,381.5 586.4,384.4 C589.2,387.3 586.0,389.2 584.0,394.0 C582.0,398.8 580.8,399.4 578.0,405.0 C575.2,410.6 574.8,412.2 572.0,418.0 C569.2,423.8 568.8,424.9 566.0,430.0 C563.2,435.1 562.8,440.0 560.0,440.0 C557.2,440.0 554.6,437.9 554.0,430.0 C553.4,422.1 557.0,416.4 557.6,406.0 C558.2,395.6 553.0,391.3 556.4,385.6 Z" fill="#a9c8de" stroke="none"/>
<path d="M567.0,410.0 C567.7,411.2 565.2,414.7 563.0,425.0 C560.8,435.3 560.2,445.4 557.6,454.0 C555.0,462.6 552.4,465.3 552.0,462.0 C551.6,458.7 554.1,449.8 556.0,440.0 C557.9,430.2 557.4,427.0 560.0,420.0 C562.6,413.0 566.3,408.8 567.0,410.0 Z" fill="#e3eef7" stroke="none"/>
<path d="M556.4,385.6 C553.0,389.9 558.2,393.1 557.6,400.0 C557.0,406.9 555.9,408.1 554.0,415.0 C552.1,421.9 552.0,421.4 549.6,429.6 C547.2,437.8 547.1,440.6 543.6,450.0 C540.1,459.4 538.5,461.1 534.4,470.0 C530.3,478.9 532.2,476.8 526.0,488.0 C519.8,499.2 516.4,506.0 508.0,518.0 C499.6,530.0 496.3,530.7 490.0,539.6 C483.7,548.5 485.9,547.7 480.8,556.0 C475.7,564.3 473.5,566.6 468.0,575.0 C462.5,583.4 461.6,584.3 457.4,592.0 C453.2,599.7 452.1,601.3 450.0,608.0 C447.9,614.7 445.8,617.0 448.4,620.8 C451.0,624.6 457.2,626.9 461.0,624.4 C464.8,621.9 461.7,617.6 464.6,610.0 C467.5,602.4 469.1,600.4 473.6,592.0 C478.1,583.6 479.7,581.9 484.0,574.0 C488.3,566.1 487.8,565.5 492.0,558.0 C496.2,550.5 494.1,554.1 502.0,542.0 C509.9,529.9 516.9,520.5 526.0,506.0 C535.1,491.5 534.9,490.7 541.2,480.0 C547.5,469.3 548.6,467.7 552.8,460.0 C557.0,452.3 556.8,452.3 559.0,447.0 C561.2,441.7 559.4,444.0 562.4,437.2 C565.4,430.4 567.9,426.2 572.0,418.0 C576.1,409.8 577.2,407.6 580.0,402.0 C582.8,396.4 582.5,398.1 584.0,394.0 C585.5,389.9 589.2,387.3 586.4,384.4 C583.6,381.5 579.0,381.1 572.0,381.4 C565.0,381.7 559.8,381.3 556.4,385.6 Z" stroke="#3b6a86" stroke-width="1.8"/>
</g>
<!-- foot bones -->
<g stroke-linejoin="round" stroke-linecap="round" fill="none">
<path d="M398.0,622.4 C396.2,625.8 395.0,627.1 395.8,631.4 C396.7,635.7 398.2,637.8 401.6,640.8 C405.0,643.7 406.7,643.9 410.6,644.0 C414.5,644.1 412.7,641.2 418.2,641.3 C423.6,641.4 428.4,644.5 434.0,644.4 C439.6,644.2 440.8,644.4 442.1,640.8 C443.4,637.1 441.5,634.2 439.4,628.7 C437.3,623.2 436.5,620.7 433.1,617.0 C429.7,613.3 429.8,612.6 425.0,613.0 C420.2,613.5 417.4,617.9 412.4,618.8 C407.4,619.7 407.1,616.2 403.8,617.0 C400.4,617.8 399.8,619.0 398.0,622.4 Z" fill="#e3eef7" stroke="#3b6a86" stroke-width="1.8"/>
<path d="M398.0,631.4 C398.2,633.9 399.6,636.9 402.5,639.5 C405.4,642.1 406.9,642.4 410.6,642.6 C414.3,642.7 412.7,639.9 418.2,640.0 C423.6,640.2 428.8,643.1 434.0,643.1 C439.2,643.1 440.3,641.4 440.3,640.0 C440.3,638.7 439.0,637.8 434.0,637.2 C429.0,636.5 424.6,637.5 418.7,637.2 C412.8,636.9 412.8,637.9 408.8,635.9 C404.8,633.9 404.1,629.7 401.6,628.7 C399.1,627.6 397.8,628.9 398.0,631.4 Z" fill="#a9c8de" stroke="none"/>
<path d="M418.7,628.7 C419.4,629.4 420.9,631.6 423.2,632.8 C425.4,634.0 430.7,635.4 432.2,635.9" stroke="#3b6a86" stroke-width="1.2"/>
<path d="M425.0,613.0 C425.2,610.9 428.3,608.8 434.0,608.0 C439.7,607.2 443.8,606.5 449.3,609.4 C454.8,612.4 457.0,616.5 457.8,620.6 C458.5,624.7 456.4,625.4 452.4,626.9 C448.3,628.4 444.8,629.2 440.3,626.9 C435.8,624.6 436.7,620.2 433.1,617.0 C429.5,613.8 424.8,615.1 425.0,613.0 Z" fill="#e3eef7" stroke="#3b6a86" stroke-width="1.8"/>
<path d="M451.1,627.8 C453.4,625.5 455.6,624.9 459.2,625.1 C462.8,625.3 465.1,625.9 466.4,628.7 C467.7,631.5 467.1,634.8 464.6,637.2 C462.1,639.6 459.2,639.5 455.6,639.0 C452.0,638.5 450.3,637.6 449.3,635.0 C448.2,632.4 448.8,630.1 451.1,627.8 Z" fill="#e3eef7" stroke="#3b6a86" stroke-width="1.8"/>
<path d="M442.1,641.3 C444.0,638.8 445.9,636.3 449.3,635.9 C452.7,635.5 455.2,636.7 456.5,639.5 C457.8,642.3 457.0,645.4 454.7,648.0 C452.4,650.5 449.7,650.6 446.6,650.3 C443.4,650.0 442.2,648.8 441.2,646.7 C440.1,644.6 440.2,643.8 442.1,641.3 Z" fill="#a9c8de" stroke="#3b6a86" stroke-width="1.8"/>
<path d="M456.5,639.5 C458.7,636.9 461.8,636.5 465.0,637.2 C468.1,637.8 470.1,639.3 470.0,642.2 C469.9,645.1 468.0,647.9 464.6,649.4 C461.2,650.9 457.5,650.8 455.6,648.5 C453.7,646.2 454.3,642.1 456.5,639.5 Z" fill="#e3eef7" stroke="#3b6a86" stroke-width="1.8"/>
<path d="M466.4,628.7 C468.4,628.2 471.5,631.8 473.6,635.0 C475.7,638.1 476.2,640.5 475.4,642.2 C474.6,643.9 472.4,643.4 470.0,642.2 C467.6,641.0 465.8,640.3 465.0,637.2 C464.1,634.0 464.4,629.2 466.4,628.7 Z" fill="#e3eef7" stroke="#3b6a86" stroke-width="1.8"/>
<path d="M452.0,650.3 C453.3,648.3 459.0,648.1 461.9,648.5 C464.8,648.9 462.6,647.6 466.4,652.1 C470.2,656.6 477.0,665.4 480.8,671.0 C484.6,676.6 484.9,677.5 485.3,680.0 C485.7,682.5 484.4,683.2 482.6,683.6 C480.8,684.0 478.8,684.7 476.3,681.8 C473.8,678.9 474.1,673.9 470.0,669.2 C465.9,664.5 459.2,662.2 455.6,658.4 C452.0,654.6 450.7,652.3 452.0,650.3 Z" fill="#e3eef7" stroke="#3b6a86" stroke-width="1.8"/>
<path d="M464.6,649.8 C464.1,646.0 468.7,643.5 470.9,643.1 C473.1,642.7 472.5,642.4 475.4,647.6 C478.3,652.8 482.4,663.1 485.3,669.2 C488.2,675.3 489.6,675.9 489.8,678.2 C490.0,680.5 487.6,680.9 486.2,680.9 C484.8,680.9 485.1,682.0 482.6,678.2 C480.1,674.4 477.2,667.7 473.6,662.0 C470.0,656.3 465.1,653.5 464.6,649.8 Z" fill="#a9c8de" stroke="#3b6a86" stroke-width="1.8"/>
<path d="M472.7,644.0 C472.0,640.2 475.6,642.0 477.2,643.1 C478.8,644.2 477.9,643.8 480.8,649.4 C483.7,655.0 488.7,665.2 491.6,671.0 C494.5,676.8 495.0,676.4 495.2,678.2 C495.4,680.0 493.8,680.2 492.5,680.0 C491.2,679.8 491.2,680.9 488.9,677.3 C486.6,673.7 484.0,668.7 480.8,662.0 C477.6,655.3 473.4,647.8 472.7,644.0 Z" fill="#e3eef7" stroke="#3b6a86" stroke-width="1.8"/>
<path d="M476.3,640.4 C475.9,638.1 478.3,639.1 479.9,641.3 C481.5,643.5 481.0,644.5 484.4,651.2 C487.8,657.9 494.3,669.2 497.0,674.6 C499.7,680.0 498.3,677.4 497.9,678.2 C497.5,679.0 496.8,680.4 495.2,678.6 C493.6,676.8 492.5,674.3 489.8,669.2 C487.1,664.1 484.4,658.8 481.7,653.0 C479.0,647.2 476.7,642.7 476.3,640.4 Z" fill="#a9c8de" stroke="#3b6a86" stroke-width="1.8"/>
<path d="M480.8,684.0 C480.4,682.3 483.3,681.3 486.2,681.8 C489.1,682.3 492.7,684.5 495.2,686.3 C497.7,688.1 498.8,689.4 498.8,690.8 C498.8,692.2 497.4,693.7 495.2,693.5 C493.0,693.3 490.9,691.8 488.0,689.9 C485.1,688.0 481.2,685.6 480.8,684.0 Z" fill="#e3eef7" stroke="#3b6a86" stroke-width="1.6"/>
<path d="M497.0,690.8 C497.7,689.9 499.9,689.2 502.4,689.9 C504.9,690.6 508.9,693.1 509.6,694.4 C510.3,695.7 508.2,696.6 506.0,696.6 C503.8,696.6 500.6,695.6 498.8,694.4 C497.0,693.2 496.3,691.7 497.0,690.8 Z" fill="#e3eef7" stroke="#3b6a86" stroke-width="1.6"/>
<path d="M488.0,680.0 C487.6,678.7 490.0,678.2 492.5,679.1 C495.0,680.0 498.3,682.6 500.6,684.5 C502.9,686.4 504.1,687.6 504.2,688.6 C504.3,689.7 502.9,690.5 501.0,689.9 C499.0,689.3 496.9,687.4 494.3,685.4 C491.7,683.4 488.4,681.3 488.0,680.0 Z" fill="#e3eef7" stroke="#3b6a86" stroke-width="1.6"/>
<path d="M503.3,688.6 C503.7,687.9 504.7,687.4 506.9,688.1 C509.1,688.8 513.2,691.1 514.1,692.2 C515.0,693.4 513.2,694.1 511.4,694.0 C509.6,693.9 506.7,692.8 505.1,691.7 C503.5,690.6 502.9,689.4 503.3,688.6 Z" fill="#e3eef7" stroke="#3b6a86" stroke-width="1.6"/>
<path d="M495.2,679.1 C494.8,678.0 496.5,677.3 498.8,678.2 C501.1,679.1 504.7,681.9 506.9,683.6 C509.1,685.3 509.6,686.0 509.6,686.8 C509.6,687.7 508.7,688.4 506.9,687.7 C505.1,687.1 502.9,685.3 500.6,683.6 C498.3,681.9 495.6,680.2 495.2,679.1 Z" fill="#e3eef7" stroke="#3b6a86" stroke-width="1.6"/>
<path d="M509.2,686.8 C509.5,686.2 510.2,685.7 512.3,686.3 C514.4,686.9 518.6,688.8 519.5,689.9 C520.4,691.0 518.5,691.8 516.8,691.7 C515.1,691.6 512.6,690.3 511.0,689.4 C509.5,688.4 509.0,687.5 509.2,686.8 Z" fill="#e3eef7" stroke="#3b6a86" stroke-width="1.6"/>
<path d="M498.8,677.8 C498.3,676.8 500.1,676.3 502.4,677.1 C504.7,678.0 508.3,680.6 510.5,682.2 C512.7,683.7 513.1,684.3 513.2,685.0 C513.3,685.8 512.7,686.3 511.0,685.8 C509.4,685.2 507.5,683.7 505.1,682.2 C502.7,680.6 499.3,678.8 498.8,677.8 Z" fill="#e3eef7" stroke="#3b6a86" stroke-width="1.6"/>
<path d="M513.2,685.0 C513.4,684.4 513.7,683.8 515.9,684.5 C518.1,685.2 522.9,687.5 524.0,688.6 C525.1,689.8 523.1,690.3 521.3,690.1 C519.5,689.9 516.6,688.6 515.0,687.6 C513.4,686.6 513.0,685.7 513.2,685.0 Z" fill="#e3eef7" stroke="#3b6a86" stroke-width="1.6"/>
</g>
<!-- leg muscles -->
<g stroke-linejoin="round" stroke-linecap="round" fill="none">
<clipPath id="mc1"><path d="M449.8,200.6 C457.2,205.5 472.3,221.7 484.0,232.8 C495.7,243.9 511.9,259.1 520.0,267.0 C528.1,274.9 527.1,274.5 532.8,280.0 C538.5,285.5 548.3,294.2 554.0,300.0 C559.7,305.8 566.0,311.0 567.0,314.5 C568.0,318.0 564.1,323.0 560.0,321.0 C555.9,319.0 549.7,309.3 542.4,302.4 C535.1,295.5 523.7,286.4 516.0,279.6 C508.3,272.8 503.3,267.8 496.0,261.6 C488.7,255.4 479.6,247.5 472.0,242.4 C464.4,237.3 456.4,233.4 450.4,231.0 C444.4,228.6 440.3,227.8 436.0,228.0 C431.7,228.2 426.3,233.2 424.6,232.0 C422.9,230.8 424.9,224.3 425.8,220.8 C426.7,217.3 427.7,214.1 430.0,211.2 C432.3,208.3 436.3,205.2 439.6,203.4 C442.9,201.6 442.4,195.7 449.8,200.6 Z"/></clipPath>
<path d="M449.8,200.6 C457.2,205.5 472.3,221.7 484.0,232.8 C495.7,243.9 511.9,259.1 520.0,267.0 C528.1,274.9 527.1,274.5 532.8,280.0 C538.5,285.5 548.3,294.2 554.0,300.0 C559.7,305.8 566.0,311.0 567.0,314.5 C568.0,318.0 564.1,323.0 560.0,321.0 C555.9,319.0 549.7,309.3 542.4,302.4 C535.1,295.5 523.7,286.4 516.0,279.6 C508.3,272.8 503.3,267.8 496.0,261.6 C488.7,255.4 479.6,247.5 472.0,242.4 C464.4,237.3 456.4,233.4 450.4,231.0 C444.4,228.6 440.3,227.8 436.0,228.0 C431.7,228.2 426.3,233.2 424.6,232.0 C422.9,230.8 424.9,224.3 425.8,220.8 C426.7,217.3 427.7,214.1 430.0,211.2 C432.3,208.3 436.3,205.2 439.6,203.4 C442.9,201.6 442.4,195.7 449.8,200.6 Z" fill="#e25b59"/>
<g clip-path="url(#mc1)"><g filter="url(#soft)">
<path d="M444.3,207.5 C454.2,215.5 483.8,237.7 504.0,255.8 C524.2,273.8 555.2,305.9 565.5,315.9" stroke="#ee8781" stroke-width="7"/>
<path d="M444.8,206.9 C454.7,215.0 484.3,237.4 504.4,255.6 C524.5,273.8 555.4,305.8 565.6,315.8" stroke="#f4aaa2" stroke-width="4"/>
<path d="M445.5,205.9 C455.4,214.2 484.9,237.1 504.9,255.4 C525.0,273.6 555.7,305.6 565.8,315.6" stroke="#f9cdc6" stroke-width="2"/>
<path d="M446.8,204.4 C456.6,212.8 485.9,236.5 505.8,255.0 C525.7,273.4 556.1,305.2 566.2,315.3" stroke="#fdeae6" stroke-width="0.8"/>
<path d="M442.2,210.0 C452.3,217.7 482.2,238.7 502.6,256.4 C523.0,274.1 554.5,306.4 564.9,316.4" stroke="#fdeae6" stroke-width="0.8"/>
<path d="M437.2,216.3 C447.5,223.2 477.9,241.1 499.0,258.0 C520.0,274.9 552.8,307.8 563.5,317.8" stroke="#ee8781" stroke-width="3"/>
</g></g>
<clipPath id="mc2"><path d="M436.0,222.6 C440.6,221.6 444.4,224.7 450.4,228.0 C456.4,231.3 464.4,236.8 472.0,242.4 C479.6,248.0 488.7,255.4 496.0,261.6 C503.3,267.8 508.3,272.8 516.0,279.6 C523.7,286.4 535.2,296.5 542.4,302.4 C549.6,308.3 557.9,311.1 559.0,315.0 C560.1,318.9 554.2,325.7 549.0,326.0 C543.8,326.3 535.5,319.9 528.0,316.8 C520.5,313.7 511.7,309.5 504.0,307.2 C496.3,304.9 488.7,304.1 482.0,302.8 C475.3,301.5 471.0,302.8 464.0,299.2 C457.0,295.6 448.4,287.0 440.0,281.2 C431.6,275.4 418.2,268.8 413.6,264.4 C409.0,260.0 412.3,258.5 412.6,255.0 C412.9,251.5 413.9,247.1 415.6,243.6 C417.3,240.1 419.4,237.5 422.8,234.0 C426.2,230.5 431.4,223.6 436.0,222.6 Z"/></clipPath>
<path d="M436.0,222.6 C440.6,221.6 444.4,224.7 450.4,228.0 C456.4,231.3 464.4,236.8 472.0,242.4 C479.6,248.0 488.7,255.4 496.0,261.6 C503.3,267.8 508.3,272.8 516.0,279.6 C523.7,286.4 535.2,296.5 542.4,302.4 C549.6,308.3 557.9,311.1 559.0,315.0 C560.1,318.9 554.2,325.7 549.0,326.0 C543.8,326.3 535.5,319.9 528.0,316.8 C520.5,313.7 511.7,309.5 504.0,307.2 C496.3,304.9 488.7,304.1 482.0,302.8 C475.3,301.5 471.0,302.8 464.0,299.2 C457.0,295.6 448.4,287.0 440.0,281.2 C431.6,275.4 418.2,268.8 413.6,264.4 C409.0,260.0 412.3,258.5 412.6,255.0 C412.9,251.5 413.9,247.1 415.6,243.6 C417.3,240.1 419.4,237.5 422.8,234.0 C426.2,230.5 431.4,223.6 436.0,222.6 Z" fill="#e25b59"/>
<g clip-path="url(#mc2)"><g filter="url(#soft)">
<path d="M431.5,229.7 C441.4,236.0 470.2,253.0 491.1,267.6 C512.1,282.1 546.2,308.7 557.2,317.0" stroke="#ee8781" stroke-width="5"/>
<path d="M428.0,235.2 C438.1,241.6 467.6,259.6 488.9,273.4 C510.2,287.3 544.6,311.0 555.8,318.5" stroke="#f4aaa2" stroke-width="9"/>
<path d="M428.5,234.4 C438.6,240.8 467.9,258.6 489.2,272.6 C510.4,286.6 544.9,310.7 556.0,318.3" stroke="#f9cdc6" stroke-width="5"/>
<path d="M429.2,233.2 C439.3,239.6 468.5,257.2 489.7,271.3 C510.9,285.5 545.2,310.2 556.3,318.0" stroke="#fdeae6" stroke-width="1.5"/>
<path d="M427.0,236.8 C437.2,243.2 466.8,261.4 488.2,275.1 C509.6,288.8 544.2,311.7 555.4,319.0" stroke="#fdeae6" stroke-width="1"/>
<path d="M423.5,242.3 C433.9,248.8 464.2,268.0 486.0,281.0 C507.8,294.0 542.7,313.9 554.0,320.5" stroke="#ee8781" stroke-width="7"/>
<path d="M423.0,243.1 C433.4,249.5 463.9,268.9 485.7,281.8 C507.5,294.8 542.4,314.2 553.8,320.7" stroke="#f4aaa2" stroke-width="3"/>
<path d="M423.5,242.3 C433.9,248.8 464.2,268.0 486.0,281.0 C507.8,294.0 542.7,313.9 554.0,320.5" stroke="#fdeae6" stroke-width="1"/>
<path d="M419.0,249.4 C429.7,255.9 460.9,276.4 483.1,288.6 C505.3,300.7 540.7,316.8 552.2,322.5" stroke="#f4aaa2" stroke-width="6"/>
<path d="M419.0,249.4 C429.7,255.9 460.9,276.4 483.1,288.6 C505.3,300.7 540.7,316.8 552.2,322.5" stroke="#f9cdc6" stroke-width="2.5"/>
<path d="M418.5,250.2 C429.2,256.7 460.6,277.3 482.8,289.4 C505.1,301.5 540.5,317.1 552.0,322.7" stroke="#fdeae6" stroke-width="0.8"/>
<path d="M414.8,256.1 C425.7,262.7 457.8,284.3 480.4,295.7 C503.0,307.1 538.8,319.6 550.5,324.4" stroke="#ee8781" stroke-width="3"/>
<path d="M433.5,226.5 C443.3,232.8 471.6,249.3 492.4,264.2 C513.1,279.1 547.1,307.5 558.0,316.1" stroke="#f9cdc6" stroke-width="0.8"/>
</g></g>
<clipPath id="mc3"><path d="M413.6,264.4 C418.6,267.0 431.6,275.4 440.0,281.2 C448.4,287.0 456.5,293.6 464.0,299.2 C471.5,304.8 478.3,309.4 485.0,315.0 C491.7,320.6 500.3,325.4 504.0,333.0 C507.7,340.6 507.7,356.4 507.0,360.5 C506.3,364.6 506.8,361.0 500.0,357.6 C493.2,354.2 476.4,346.3 466.4,340.0 C456.4,333.7 448.4,327.0 440.0,319.6 C431.6,312.2 422.3,302.4 416.0,295.6 C409.7,288.8 404.2,283.0 402.2,278.8 C400.2,274.6 402.7,272.6 404.0,270.4 C405.3,268.2 408.4,266.6 410.0,265.6 C411.6,264.6 408.6,261.8 413.6,264.4 Z"/></clipPath>
<path d="M413.6,264.4 C418.6,267.0 431.6,275.4 440.0,281.2 C448.4,287.0 456.5,293.6 464.0,299.2 C471.5,304.8 478.3,309.4 485.0,315.0 C491.7,320.6 500.3,325.4 504.0,333.0 C507.7,340.6 507.7,356.4 507.0,360.5 C506.3,364.6 506.8,361.0 500.0,357.6 C493.2,354.2 476.4,346.3 466.4,340.0 C456.4,333.7 448.4,327.0 440.0,319.6 C431.6,312.2 422.3,302.4 416.0,295.6 C409.7,288.8 404.2,283.0 402.2,278.8 C400.2,274.6 402.7,272.6 404.0,270.4 C405.3,268.2 408.4,266.6 410.0,265.6 C411.6,264.6 408.6,261.8 413.6,264.4 Z" fill="#e25b59"/>
<g clip-path="url(#mc3)"><g filter="url(#soft)">
<path d="M410.2,268.7 C417.2,274.2 436.8,289.8 452.6,301.9 C468.4,314.0 496.2,334.7 504.9,341.2" stroke="#ee8781" stroke-width="6"/>
<path d="M409.6,269.4 C416.7,275.1 436.3,291.4 452.2,303.6 C468.1,315.7 496.2,336.1 505.1,342.6" stroke="#f4aaa2" stroke-width="3"/>
<path d="M409.3,269.9 C416.4,275.7 436.0,292.3 452.0,304.5 C467.9,316.8 496.3,337.0 505.1,343.4" stroke="#fdeae6" stroke-width="1.2"/>
<path d="M406.8,273.0 C414.0,279.5 433.7,299.1 450.2,311.8 C466.7,324.5 496.5,343.2 505.8,349.5" stroke="#ee8781" stroke-width="5"/>
<path d="M406.5,273.3 C413.8,279.8 433.5,299.7 450.0,312.5 C466.6,325.2 496.6,343.8 505.9,350.1" stroke="#f9cdc6" stroke-width="2"/>
<path d="M404.5,275.9 C411.8,283.0 431.6,305.2 448.6,318.4 C465.6,331.6 496.8,348.9 506.4,355.0" stroke="#f4aaa2" stroke-width="1"/>
<path d="M411.9,266.6 C418.9,271.6 438.4,285.2 453.8,296.9 C469.2,308.7 496.0,330.4 504.4,337.1" stroke="#f9cdc6" stroke-width="0.8"/>
</g></g>
<linearGradient id="tg1" gradientUnits="userSpaceOnUse" x1="555" y1="318" x2="598" y2="385"><stop offset="0" stop-color="#e79b97"/><stop offset="0.18" stop-color="#b5b9c9"/><stop offset="0.6" stop-color="#a9cadf"/><stop offset="1" stop-color="#c6e2f0"/></linearGradient>
<path d="M567.0,314.5 C567.8,315.5 568.0,314.8 572.0,320.4 C576.0,326.0 586.4,340.2 591.2,348.0 C596.0,355.8 598.7,361.7 600.8,367.2 C602.9,372.7 603.5,377.6 603.8,381.0 C604.1,384.4 603.0,386.5 602.8,387.6 L591.4,385.0 C591.4,383.6 592.0,380.6 591.2,376.8 C590.4,373.0 588.8,366.8 586.4,362.4 C584.0,358.0 581.2,355.0 576.8,350.4 C572.4,345.8 564.6,338.9 560.0,334.8 C555.4,330.7 550.8,327.5 549.0,326.0 Z" fill="url(#tg1)"/>
<linearGradient id="tg2" gradientUnits="userSpaceOnUse" x1="503" y1="345" x2="552" y2="395"><stop offset="0" stop-color="#e79b97"/><stop offset="0.12" stop-color="#b5b9c9"/><stop offset="0.5" stop-color="#a9cadf"/><stop offset="1" stop-color="#8fcbe0"/></linearGradient>
<path d="M504.0,333.0 C507.3,335.9 517.9,344.7 524.0,350.4 C530.1,356.1 536.7,363.1 540.8,367.2 C544.9,371.3 546.4,372.0 548.8,375.0 C551.2,378.0 553.9,381.4 555.2,385.4 C556.5,389.4 556.9,394.5 556.8,399.0 C556.7,403.5 555.3,408.9 554.4,412.6 C553.5,416.3 552.1,417.7 551.2,421.4 C550.3,425.1 549.2,432.7 548.8,435.0 L538.4,422.2 C539.2,421.4 541.6,419.7 543.2,417.4 C544.8,415.1 546.7,412.3 548.0,408.6 C549.3,404.9 551.2,399.1 551.2,395.0 C551.2,390.9 549.9,386.9 548.0,383.8 C546.1,380.7 542.7,378.7 540.0,376.6 C537.3,374.5 534.7,372.6 532.0,371.0 C529.3,369.4 528.2,368.9 524.0,367.2 C519.8,365.4 509.8,361.6 507.0,360.5 Z" fill="url(#tg2)"/>
<clipPath id="mc4"><path d="M524.0,403.5 C527.0,402.6 529.9,408.3 530.4,410.2 C530.9,412.1 527.0,416.0 528.0,417.4 C529.0,418.8 538.1,418.3 537.6,421.0 C537.1,423.7 528.1,433.2 524.4,438.0 C520.7,442.8 513.5,451.6 510.0,457.2 C506.5,462.8 500.7,475.4 498.0,480.0 C495.3,484.6 492.7,486.9 490.0,491.6 C487.3,496.3 480.7,509.5 478.0,515.6 C475.3,521.7 471.2,533.7 469.6,537.2 C468.0,540.7 467.0,540.9 466.0,541.5 C465.0,542.1 462.8,542.7 462.0,542.0 C461.2,541.3 459.3,540.8 460.0,536.0 C460.7,531.2 465.0,514.3 467.2,506.0 C469.4,497.7 474.2,481.5 476.4,474.0 C478.6,466.5 480.7,456.4 483.6,450.0 C486.5,443.6 494.7,430.5 498.0,426.0 C501.3,421.5 504.5,419.6 508.0,416.6 C511.5,413.6 521.0,404.4 524.0,403.5 Z"/></clipPath>
<path d="M524.0,403.5 C527.0,402.6 529.9,408.3 530.4,410.2 C530.9,412.1 527.0,416.0 528.0,417.4 C529.0,418.8 538.1,418.3 537.6,421.0 C537.1,423.7 528.1,433.2 524.4,438.0 C520.7,442.8 513.5,451.6 510.0,457.2 C506.5,462.8 500.7,475.4 498.0,480.0 C495.3,484.6 492.7,486.9 490.0,491.6 C487.3,496.3 480.7,509.5 478.0,515.6 C475.3,521.7 471.2,533.7 469.6,537.2 C468.0,540.7 467.0,540.9 466.0,541.5 C465.0,542.1 462.8,542.7 462.0,542.0 C461.2,541.3 459.3,540.8 460.0,536.0 C460.7,531.2 465.0,514.3 467.2,506.0 C469.4,497.7 474.2,481.5 476.4,474.0 C478.6,466.5 480.7,456.4 483.6,450.0 C486.5,443.6 494.7,430.5 498.0,426.0 C501.3,421.5 504.5,419.6 508.0,416.6 C511.5,413.6 521.0,404.4 524.0,403.5 Z" fill="#e25b59"/>
<g clip-path="url(#mc4)"><g filter="url(#soft)">
<path d="M527.2,410.6 C520.2,419.9 496.1,444.4 485.4,466.0 C474.7,487.6 466.5,527.7 462.7,540.0" stroke="#ee8781" stroke-width="5"/>
<path d="M527.2,410.6 C520.2,419.9 496.1,444.4 485.4,466.0 C474.7,487.6 466.5,527.7 462.7,540.0" stroke="#f4aaa2" stroke-width="2"/>
<path d="M527.4,411.0 C520.5,420.2 496.5,444.9 485.8,466.4 C475.0,487.9 466.7,527.7 462.9,540.0" stroke="#fdeae6" stroke-width="0.7"/>
<path d="M532.7,417.7 C526.1,427.1 504.0,454.0 493.0,474.4 C481.9,494.8 470.9,529.1 466.5,540.0" stroke="#ee8781" stroke-width="4"/>
<path d="M532.7,417.7 C526.1,427.1 504.0,454.0 493.0,474.4 C481.9,494.8 470.9,529.1 466.5,540.0" stroke="#f4aaa2" stroke-width="1.5"/>
<path d="M533.0,418.0 C526.4,427.5 504.4,454.5 493.3,474.8 C482.3,495.1 471.1,529.1 466.7,540.0" stroke="#fdeae6" stroke-width="0.7"/>
<path d="M525.2,408.1 C518.1,417.3 493.3,441.0 482.7,463.0 C472.1,485.0 464.9,527.2 461.4,540.0" stroke="#f9cdc6" stroke-width="0.6"/>
</g></g>
<clipPath id="mc5"><path d="M524.4,438.0 C527.6,435.8 531.3,439.7 534.0,441.0 C536.7,442.3 543.5,446.4 544.8,447.6 C546.1,448.8 545.0,447.0 543.6,450.0 C542.2,453.0 536.7,464.9 534.4,470.0 C532.1,475.1 529.5,481.6 526.0,488.0 C522.5,494.4 512.8,511.1 508.0,518.0 C503.2,524.9 493.2,536.3 490.0,539.6 C486.8,542.9 485.9,542.4 484.0,542.5 C482.1,542.6 477.8,541.0 476.0,540.0 C474.2,539.0 470.5,538.1 470.8,534.8 C471.1,531.5 475.4,521.4 478.0,515.6 C480.6,509.8 487.3,496.3 490.0,491.6 C492.7,486.9 495.3,484.6 498.0,480.0 C500.7,475.4 506.5,462.8 510.0,457.2 C513.5,451.6 521.2,440.2 524.4,438.0 Z"/></clipPath>
<path d="M524.4,438.0 C527.6,435.8 531.3,439.7 534.0,441.0 C536.7,442.3 543.5,446.4 544.8,447.6 C546.1,448.8 545.0,447.0 543.6,450.0 C542.2,453.0 536.7,464.9 534.4,470.0 C532.1,475.1 529.5,481.6 526.0,488.0 C522.5,494.4 512.8,511.1 508.0,518.0 C503.2,524.9 493.2,536.3 490.0,539.6 C486.8,542.9 485.9,542.4 484.0,542.5 C482.1,542.6 477.8,541.0 476.0,540.0 C474.2,539.0 470.5,538.1 470.8,534.8 C471.1,531.5 475.4,521.4 478.0,515.6 C480.6,509.8 487.3,496.3 490.0,491.6 C492.7,486.9 495.3,484.6 498.0,480.0 C500.7,475.4 506.5,462.8 510.0,457.2 C513.5,451.6 521.2,440.2 524.4,438.0 Z" fill="#e25b59"/>
<g clip-path="url(#mc5)"><g filter="url(#soft)">
<path d="M535.2,442.8 C530.5,451.0 516.2,476.1 507.0,492.0 C497.8,507.9 484.4,530.5 479.9,538.2" stroke="#ee8781" stroke-width="12"/>
<path d="M535.2,442.8 C530.5,451.0 516.2,476.1 507.0,492.0 C497.8,507.9 484.4,530.5 479.9,538.2" stroke="#f19a94" stroke-width="6"/>
<path d="M529.2,440.1 C524.1,448.5 507.7,474.2 498.6,490.3 C489.5,506.4 478.8,529.0 474.8,536.7" stroke="#fdeae6" stroke-width="0.7"/>
<path d="M532.2,441.5 C527.3,449.7 511.9,475.2 502.8,491.2 C493.7,507.2 481.6,529.8 477.4,537.5" stroke="#fdeae6" stroke-width="0.8"/>
<path d="M535.2,442.8 C530.5,451.0 516.2,476.1 507.0,492.0 C497.8,507.9 484.4,530.5 479.9,538.2" stroke="#fdeae6" stroke-width="0.8"/>
<path d="M537.8,444.0 C533.3,452.1 519.9,476.9 510.6,492.7 C501.3,508.5 486.8,531.2 482.1,538.9" stroke="#fdeae6" stroke-width="0.7"/>
<path d="M540.6,445.2 C536.2,453.3 523.9,477.8 514.5,493.5 C505.1,509.2 489.5,531.9 484.4,539.6" stroke="#fdeae6" stroke-width="0.8"/>
<path d="M543.2,446.4 C539.0,454.3 527.5,478.6 518.1,494.2 C508.7,509.9 491.9,532.6 486.6,540.3" stroke="#f9cdc6" stroke-width="0.6"/>
</g></g>
<linearGradient id="tg3" gradientUnits="userSpaceOnUse" x1="545" y1="385" x2="528" y2="414"><stop offset="0" stop-color="#9ecbe2"/><stop offset="0.55" stop-color="#a9b9cc"/><stop offset="1" stop-color="#d9b0b2"/></linearGradient>
<path d="M540.0,377.0 L548.0,384.0 L551.0,395.0 L548.0,408.6 L543.0,417.4 L538.0,422.0 L528.0,417.4 L530.4,410.2 L524.0,403.5 L524.0,401.4 L535.0,388.6 Z" fill="url(#tg3)"/>
<linearGradient id="tg4" gradientUnits="userSpaceOnUse" x1="548" y1="418" x2="534" y2="444"><stop offset="0" stop-color="#a9c4d8"/><stop offset="0.45" stop-color="#b9bccb"/><stop offset="1" stop-color="#eea9a5"/></linearGradient>
<path d="M538.4,422.2 L548.0,410.0 L551.2,421.4 L548.8,435.0 L546.0,447.6 L534.0,441.0 L524.4,438.0 Z" fill="url(#tg4)"/>
<linearGradient id="tg5" gradientUnits="userSpaceOnUse" x1="478" y1="538" x2="466" y2="560"><stop offset="0" stop-color="#e8a5a3"/><stop offset="0.4" stop-color="#a9b9cc"/><stop offset="1" stop-color="#b9dced"/></linearGradient>
<path d="M460.0,536.0 L462.0,542.0 L466.0,541.5 L469.6,537.2 L470.8,534.8 L476.0,540.0 L484.0,542.5 L490.0,539.6 L478.0,556.0 L468.0,572.0 L455.0,572.0 L457.0,556.0 Z" fill="url(#tg5)"/>
<path d="M459.2,543.4 C458.0,547.9 456.2,561.7 452.0,570.4 C447.8,579.1 442.1,587.8 434.0,595.6 C425.9,603.4 408.5,613.6 403.4,617.2 L409.7,622.6 C414.6,619.0 431.4,609.1 439.4,601.0 C447.3,592.9 452.9,583.6 457.4,574.0 C461.9,564.4 464.9,548.5 466.4,543.4 Z" fill="#b9dced" stroke="#2d3054" stroke-width="1.9"/>
<path d="M463.0,546.0 C461.7,550.3 459.3,563.3 455.0,572.0 C450.7,580.7 445.0,590.0 437.0,598.0 C429.0,606.0 412.0,616.3 407.0,620.0" stroke="#8dbcd6" stroke-width="2"/>
<path d="M470.0,539.8 C468.7,544.8 465.0,561.3 462.0,570.0 C459.0,578.7 455.5,582.8 452.0,592.0 C448.5,601.2 443.7,616.9 441.0,625.0 C438.3,633.1 436.7,638.0 435.8,640.6 A4.2,4.2 0 0 0 443.9,641.6 L443.9,641.6 C444.9,638.3 447.4,629.7 450.0,622.0 C452.6,614.3 455.9,604.3 459.2,595.6 C462.5,586.9 467.0,578.7 470.0,570.0 C473.0,561.3 476.0,547.8 477.2,543.4 Z" fill="#b9dced" stroke="#2d3054" stroke-width="1.9"/>
<path d="M474.0,546.0 C472.7,550.3 469.0,563.7 466.0,572.0 C463.0,580.3 459.3,587.3 456.0,596.0 C452.7,604.7 448.5,616.7 446.0,624.0 C443.5,631.3 441.8,637.3 441.0,640.0" stroke="#8dbcd6" stroke-width="2"/>
<path d="M449.8,200.6 C455.5,206.0 472.3,221.7 484.0,232.8 C495.7,243.9 511.9,259.1 520.0,267.0 C528.1,274.9 527.1,274.5 532.8,280.0 C538.5,285.5 547.5,293.3 554.0,300.0 C560.5,306.7 565.8,312.4 572.0,320.4 C578.2,328.4 586.4,340.2 591.2,348.0 C596.0,355.8 598.7,361.7 600.8,367.2 C602.9,372.7 603.5,377.6 603.8,381.0 C604.1,384.4 603.0,386.5 602.8,387.6" stroke="#2d3054" stroke-width="2.1"/>
<path d="M436.0,222.6 C438.4,223.5 444.4,224.7 450.4,228.0 C456.4,231.3 464.4,236.8 472.0,242.4 C479.6,248.0 488.7,255.4 496.0,261.6 C503.3,267.8 508.3,272.8 516.0,279.6 C523.7,286.4 535.5,296.7 542.4,302.4 C549.3,308.1 553.2,309.7 557.6,314.0 C562.0,318.3 566.0,324.8 568.8,328.0 C571.6,331.2 571.1,329.3 574.4,333.0 C577.7,336.7 585.3,345.6 588.8,350.4 C592.3,355.2 593.6,358.7 595.5,362.0 C597.4,365.3 599.5,368.7 600.3,370.0" stroke="#2d3054" stroke-width="2.1"/>
<path d="M464.0,299.2 C467.0,299.8 475.3,301.5 482.0,302.8 C488.7,304.1 496.3,304.9 504.0,307.2 C511.7,309.5 520.7,313.8 528.0,316.8 C535.3,319.8 542.7,322.2 548.0,325.2 C553.3,328.2 555.2,330.6 560.0,334.8 C564.8,339.0 572.4,345.8 576.8,350.4 C581.2,355.0 584.0,358.0 586.4,362.4 C588.8,366.8 590.4,373.0 591.2,376.8 C592.0,380.6 591.4,383.6 591.4,385.0" stroke="#2d3054" stroke-width="2.1"/>
<path d="M413.6,264.4 C418.0,267.2 431.6,275.4 440.0,281.2 C448.4,287.0 456.5,293.6 464.0,299.2 C471.5,304.8 478.3,309.4 485.0,315.0 C491.7,320.6 497.5,327.1 504.0,333.0 C510.5,338.9 517.9,344.7 524.0,350.4 C530.1,356.1 536.7,363.1 540.8,367.2 C544.9,371.3 546.4,372.0 548.8,375.0 C551.2,378.0 553.9,381.4 555.2,385.4 C556.5,389.4 556.9,394.5 556.8,399.0 C556.7,403.5 555.6,407.5 554.4,412.6 C553.2,417.7 551.4,423.4 549.6,429.6 C547.8,435.8 546.1,443.3 543.6,450.0 C541.1,456.7 537.3,463.7 534.4,470.0 C531.5,476.3 530.4,480.0 526.0,488.0 C521.6,496.0 514.0,509.4 508.0,518.0 C502.0,526.6 495.4,533.2 490.0,539.6 C484.6,546.0 479.3,551.0 475.6,556.4 C471.9,561.8 469.3,569.4 468.0,572.0" stroke="#2d3054" stroke-width="2.1"/>
<path d="M402.2,278.8 C404.5,281.6 409.7,288.8 416.0,295.6 C422.3,302.4 431.6,312.2 440.0,319.6 C448.4,327.0 456.4,333.7 466.4,340.0 C476.4,346.3 490.4,353.1 500.0,357.6 C509.6,362.1 518.7,365.0 524.0,367.2 C529.3,369.4 529.3,369.4 532.0,371.0 C534.7,372.6 537.3,374.5 540.0,376.6 C542.7,378.7 546.1,380.7 548.0,383.8 C549.9,386.9 551.2,390.9 551.2,395.0 C551.2,399.1 549.3,404.9 548.0,408.6 C546.7,412.3 544.8,415.1 543.2,417.4 C541.6,419.7 539.2,421.4 538.4,422.2" stroke="#2d3054" stroke-width="2.1"/>
<path d="M541.6,378.2 C542.4,379.9 545.4,385.1 546.5,388.6 C547.6,392.1 548.3,395.3 548.0,399.0 C547.7,402.7 546.1,407.1 544.5,411.0 C542.9,414.9 539.4,420.3 538.4,422.2" stroke="#2d3054" stroke-width="1.5"/>
<path d="M540.0,377.4 C539.2,379.3 537.9,384.6 535.2,388.6 C532.5,392.6 528.5,396.7 524.0,401.4 C519.5,406.1 512.3,412.5 508.0,416.6 C503.7,420.7 502.1,420.4 498.0,426.0 C493.9,431.6 487.2,442.0 483.6,450.0 C480.0,458.0 479.1,464.7 476.4,474.0 C473.7,483.3 469.9,495.7 467.2,506.0 C464.5,516.3 461.3,529.8 460.0,536.0 C458.7,542.2 460.5,537.7 459.2,543.4 C457.9,549.1 453.2,565.9 452.0,570.4" stroke="#2d3054" stroke-width="2.1"/>
<path d="M530.4,410.2 C528.2,413.4 522.0,423.0 517.2,429.6 C512.4,436.2 505.8,443.6 501.6,450.0 C497.4,456.4 494.5,463.2 492.0,468.0 C489.5,472.8 487.4,477.2 486.5,479.0" stroke="#2d3054" stroke-width="2.1"/>
<path d="M538.2,421.8 C535.9,424.5 529.1,432.1 524.4,438.0 C519.7,443.9 514.4,450.2 510.0,457.2 C505.6,464.2 501.3,474.3 498.0,480.0 C494.7,485.7 493.3,485.7 490.0,491.6 C486.7,497.5 481.4,508.0 478.0,515.6 C474.6,523.2 472.2,529.8 469.6,537.2 C467.0,544.6 463.6,556.2 462.4,560.0" stroke="#2d3054" stroke-width="2.1"/>
<path d="M542.4,391.0 C541.1,393.3 535.7,402.7 534.4,405.0" stroke="#2d3054" stroke-width="1.6"/>
<linearGradient id="tg6" gradientUnits="userSpaceOnUse" x1="592" y1="396" x2="563" y2="442"><stop offset="0" stop-color="#a8cfe4"/><stop offset="0.55" stop-color="#b9bfd0"/><stop offset="1" stop-color="#efb3ad"/></linearGradient>
<path d="M585.6,392.8 C590.6,388.5 599.0,391.6 599.6,396.6 C600.2,401.6 593.8,409.9 588.8,418.0 C583.8,426.1 579.7,431.7 574.4,437.2 C569.1,442.7 565.2,444.2 562.4,445.6 C559.6,447.0 560.6,446.1 560.6,444.4 C560.6,442.7 559.6,442.5 562.4,437.2 C565.2,431.9 569.8,426.9 574.4,418.0 C579.0,409.1 580.6,397.1 585.6,392.8 Z" fill="url(#tg6)" stroke="#2d3054" stroke-width="2"/>
<path d="M588.5,385.0 C590.7,384.3 600.8,386.1 602.3,387.6 C603.8,389.1 601.8,395.9 599.6,396.6 C597.4,397.3 587.1,394.3 585.6,392.8 C584.1,391.3 586.3,385.7 588.5,385.0 Z" fill="#eef5fa" stroke="#2d3054" stroke-width="2"/>
</g>
<!-- skin outline, loop -->
<g stroke-linejoin="round" stroke-linecap="round" fill="none">
<path d="M459.3,196.0 C465.6,202.4 486.9,224.4 497.0,234.7 C507.1,245.0 512.8,250.7 520.0,258.0 C527.2,265.3 533.7,271.9 540.0,278.5 C546.3,285.1 551.3,289.9 557.6,297.5 C563.9,305.1 571.6,316.0 578.0,324.0 C584.4,332.0 591.2,339.6 596.0,345.6 C600.8,351.6 604.3,355.2 606.8,360.0 C609.3,364.8 610.2,369.7 611.0,374.4 C611.8,379.1 612.2,383.5 611.3,388.0 C610.4,392.5 607.8,397.4 605.6,401.2 C603.5,405.0 600.2,408.4 598.4,410.8 C596.6,413.2 595.4,413.9 594.8,415.6 C594.2,417.3 595.6,418.2 594.6,421.0 C593.6,423.8 591.8,428.5 588.8,432.4 C585.8,436.3 580.6,439.6 576.8,444.4 C573.0,449.2 570.8,453.0 566.0,461.2 C561.2,469.4 553.5,483.8 548.0,493.6 C542.5,503.4 538.2,511.1 533.0,520.0 C527.8,528.9 522.8,537.1 516.8,547.0 C510.8,556.9 503.0,570.4 497.0,579.4 C491.0,588.4 484.1,595.3 480.8,601.0 C477.5,606.7 477.2,608.5 477.2,613.6 C477.2,618.7 478.4,624.5 480.8,631.4 C483.2,638.3 487.4,648.5 491.6,654.8 C495.8,661.1 501.2,665.6 506.0,669.2 C510.8,672.8 516.5,675.0 520.4,676.4 C524.3,677.8 527.1,676.2 529.4,677.7 C531.7,679.2 533.8,682.6 534.4,685.4 C535.0,688.2 534.7,692.3 533.0,694.4 C531.3,696.5 528.5,697.1 524.0,698.0 C519.5,698.9 512.0,699.8 506.0,699.8 C500.0,699.8 494.0,698.9 488.0,698.0 C482.0,697.1 475.4,696.8 470.0,694.4 C464.6,692.0 460.1,687.8 455.6,683.6 C451.1,679.4 446.9,672.8 443.0,669.2 C439.1,665.6 436.7,664.1 432.2,662.0 C427.7,659.9 421.4,659.0 416.0,656.6 C410.6,654.2 404.0,651.2 399.8,647.6 C395.6,644.0 392.6,638.9 390.8,635.0 C389.0,631.1 388.4,627.5 389.0,624.2 C389.6,620.9 391.4,618.2 394.4,615.2 C397.4,612.2 401.9,609.5 407.0,606.2 C412.1,602.9 420.5,598.4 425.0,595.4 C429.5,592.4 430.4,593.5 434.0,588.4 C437.6,583.3 443.5,573.7 446.6,565.0 C449.7,556.3 450.8,545.8 452.8,536.0 C454.8,526.2 456.3,515.3 458.8,506.0 C461.3,496.7 465.5,488.3 468.0,480.0 C470.5,471.7 471.0,464.0 474.0,456.0 C477.0,448.0 481.0,440.0 486.0,432.0 C491.0,424.0 498.0,414.7 504.0,408.0 C510.0,401.3 516.9,395.9 522.0,392.0 C527.1,388.1 532.7,385.8 534.8,384.6 L534.8,384.6 C532.0,383.5 523.8,380.0 518.0,378.0 C512.2,376.0 507.0,376.1 500.0,372.5 C493.0,368.9 484.8,362.0 476.0,356.6 C467.2,351.2 455.2,346.6 447.2,340.0 C439.2,333.4 433.2,323.8 428.0,317.2 C422.8,310.6 421.9,306.4 416.0,300.4 C410.1,294.4 396.5,284.6 392.6,281.4" stroke="#e76763" stroke-width="2"/>
<path d="M518.6,678.2 C519.5,678.1 522.4,677.2 524.0,677.5 C525.6,677.8 527.0,678.2 528.0,680.0 C528.9,681.8 529.9,685.4 529.8,688.1 C529.6,690.8 528.5,694.5 527.2,696.2 C526.0,697.9 523.0,698.1 522.2,698.5" stroke="#e76763" stroke-width="1.3"/>
<path d="M514.1,679.1 C515.0,679.0 517.8,678.2 519.5,678.6 C521.1,678.9 522.9,679.7 524.0,681.4 C525.0,683.2 525.9,686.5 525.8,689.0 C525.6,691.5 524.6,694.9 523.1,696.6 C521.6,698.2 517.8,698.5 516.8,698.9" stroke="#e76763" stroke-width="1.3"/>
<path d="M509.6,680.0 C510.5,679.9 513.3,679.2 515.0,679.6 C516.6,680.1 518.4,681.0 519.5,682.7 C520.5,684.4 521.4,687.5 521.3,689.9 C521.1,692.3 520.2,695.5 518.6,697.1 C516.9,698.7 512.6,698.9 511.4,699.3" stroke="#e76763" stroke-width="1.3"/>
<path d="M533.6,278.0 L535.8,276.6 L537.9,275.3 L540.0,274.3 L542.0,273.4 L543.8,272.7 L545.6,272.2 L547.2,271.9 L548.7,271.8 L550.1,271.9 L551.2,272.2 L552.3,272.7 L553.1,273.4 L553.7,274.2 L554.2,275.3 L554.5,276.5 L554.5,277.9 L554.4,279.4 L554.1,281.1 L553.6,282.9 L552.9,284.8 L552.0,286.8 L551.0,288.9 L549.7,291.1 L548.4,293.3 L546.8,295.6 L545.2,297.9 L543.4,300.2 L541.5,302.6 L539.5,304.8 L537.4,307.1 L535.2,309.2 L533.0,311.4 L530.8,313.4 L528.5,315.3 L526.2,317.1 L524.0,318.7 L521.7,320.3 L519.5,321.6 L517.4,322.8 L515.3,323.8 L513.4,324.7 L511.5,325.3 L509.8,325.8 L508.1,326.1 L506.7,326.2 L505.4,326.0 L504.2,325.7 L503.2,325.2 L502.4,324.5 L501.8,323.6 L501.4,322.6 L501.1,321.3 L501.1,319.9 L501.2,318.4 L501.6,316.7 L502.1,314.9 L502.8,312.9 L503.7,310.9 L504.8,308.8 L506.0,306.6" stroke="#2d3054" stroke-width="2"/>
</g>
<!-- arrows -->
<g stroke="#2d3054" stroke-width="2.200" stroke-linejoin="miter">
<path d="M289,281.500 L311.600,233 L316.400,244.400 C335,232 366,228.500 390,237 C414,245 432,259 445,273.600 C425,261 400,250 375,249 C355,248.300 340,253 328,264 L335,272.400 Z" fill="#a8c962"/>
<path d="M546,278.600 C556,266 566,259 580,252 C600,241 620,236 640,237 C655,238 667,243 676,250 L681,237.600 L703.600,286.600 L657.600,278 L664,269 C656,260 640,253.500 620,252 C600,251.500 580,260 560,272 Z" fill="#b598cd"/>
</g>
<!-- watermark pattern -->
<g font-family="Liberation Sans, DejaVu Sans, sans-serif" font-weight="bold" font-size="23" fill="#ffffff" fill-opacity="0.220" stroke="#7a7a7a" stroke-opacity="0.040" stroke-width="3.500" style="paint-order:stroke">
<text transform="translate(6 52) rotate(-43)" textLength="150" lengthAdjust="spacingAndGlyphs">Adobe Stock</text>
<text transform="translate(18 382) rotate(-43)" textLength="150" lengthAdjust="spacingAndGlyphs">Adobe Stock</text>
<text transform="translate(30 712) rotate(-43)" textLength="150" lengthAdjust="spacingAndGlyphs">Adobe Stock</text>
<text transform="translate(338 60) rotate(-43)" textLength="150" lengthAdjust="spacingAndGlyphs">Adobe Stock</text>
<text transform="translate(350 390) rotate(-43)" textLength="150" lengthAdjust="spacingAndGlyphs">Adobe Stock</text>
<text transform="translate(362 720) rotate(-43)" textLength="150" lengthAdjust="spacingAndGlyphs">Adobe Stock</text>
<text transform="translate(670 68) rotate(-43)" textLength="150" lengthAdjust="spacingAndGlyphs">Adobe Stock</text>
<text transform="translate(682 398) rotate(-43)" textLength="150" lengthAdjust="spacingAndGlyphs">Adobe Stock</text>
<text transform="translate(694 728) rotate(-43)" textLength="150" lengthAdjust="spacingAndGlyphs">Adobe Stock</text>
<text transform="translate(1002 76) rotate(-43)" textLength="150" lengthAdjust="spacingAndGlyphs">Adobe Stock</text>
<text transform="translate(52 176) rotate(-43)" textLength="150" lengthAdjust="spacingAndGlyphs">Adobe Stock</text>
<text transform="translate(64 506) rotate(-43)" textLength="150" lengthAdjust="spacingAndGlyphs">Adobe Stock</text>
<text transform="translate(76 836) rotate(-43)" textLength="150" lengthAdjust="spacingAndGlyphs">Adobe Stock</text>
<text transform="translate(384 184) rotate(-43)" textLength="150" lengthAdjust="spacingAndGlyphs">Adobe Stock</text>
<text transform="translate(396 514) rotate(-43)" textLength="150" lengthAdjust="spacingAndGlyphs">Adobe Stock</text>
<text transform="translate(408 844) rotate(-43)" textLength="150" lengthAdjust="spacingAndGlyphs">Adobe Stock</text>
<text transform="translate(716 192) rotate(-43)" textLength="150" lengthAdjust="spacingAndGlyphs">Adobe Stock</text>
<text transform="translate(728 522) rotate(-43)" textLength="150" lengthAdjust="spacingAndGlyphs">Adobe Stock</text>
<text transform="translate(740 852) rotate(-43)" textLength="150" lengthAdjust="spacingAndGlyphs">Adobe Stock</text>
<text transform="translate(176 217) rotate(-43)" textLength="150" lengthAdjust="spacingAndGlyphs">Adobe Stock</text>
<text transform="translate(188 547) rotate(-43)" textLength="150" lengthAdjust="spacingAndGlyphs">Adobe Stock</text>
<text transform="translate(508 225) rotate(-43)" textLength="150" lengthAdjust="spacingAndGlyphs">Adobe Stock</text>
<text transform="translate(520 555) rotate(-43)" textLength="150" lengthAdjust="spacingAndGlyphs">Adobe Stock</text>
<text transform="translate(840 233) rotate(-43)" textLength="150" lengthAdjust="spacingAndGlyphs">Adobe Stock</text>
<text transform="translate(852 563) rotate(-43)" textLength="150" lengthAdjust="spacingAndGlyphs">Adobe Stock</text>
<text transform="translate(-108 334) rotate(-43)" textLength="150" lengthAdjust="spacingAndGlyphs">Adobe Stock</text>
<text transform="translate(-96 664) rotate(-43)" textLength="150" lengthAdjust="spacingAndGlyphs">Adobe Stock</text>
<text transform="translate(212 12) rotate(-43)" textLength="150" lengthAdjust="spacingAndGlyphs">Adobe Stock</text>
<text transform="translate(224 342) rotate(-43)" textLength="150" lengthAdjust="spacingAndGlyphs">Adobe Stock</text>
<text transform="translate(236 672) rotate(-43)" textLength="150" lengthAdjust="spacingAndGlyphs">Adobe Stock</text>
<text transform="translate(544 20) rotate(-43)" textLength="150" lengthAdjust="spacingAndGlyphs">Adobe Stock</text>
<text transform="translate(556 350) rotate(-43)" textLength="150" lengthAdjust="spacingAndGlyphs">Adobe Stock</text>
<text transform="translate(568 680) rotate(-43)" textLength="150" lengthAdjust="spacingAndGlyphs">Adobe Stock</text>
<text transform="translate(876 28) rotate(-43)" textLength="150" lengthAdjust="spacingAndGlyphs">Adobe Stock</text>
<text transform="translate(888 358) rotate(-43)" textLength="150" lengthAdjust="spacingAndGlyphs">Adobe Stock</text>
<text transform="translate(900 688) rotate(-43)" textLength="150" lengthAdjust="spacingAndGlyphs">Adobe Stock</text>
</g>
</svg>
</body>
</html>
